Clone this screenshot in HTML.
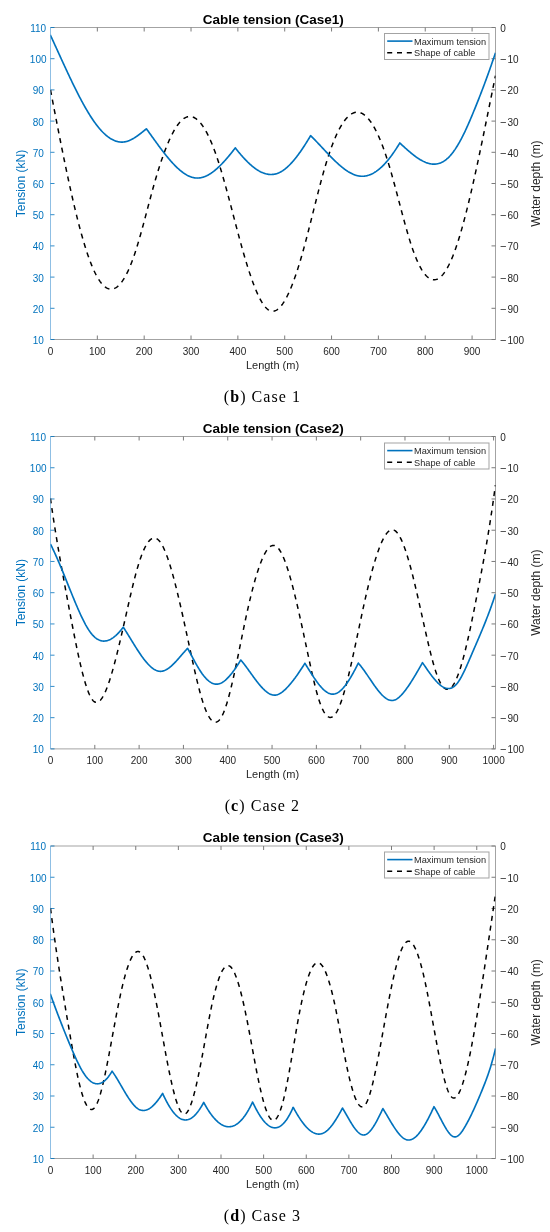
<!DOCTYPE html>
<html><head><meta charset="utf-8"><title>Cable tension</title>
<style>
html,body{margin:0;padding:0;background:#fff;width:550px;height:1232px;overflow:hidden}
svg{display:block}
text{font-family:"Liberation Sans",Arial,Helvetica,sans-serif}
text.cap{font-family:"Liberation Serif","Times New Roman",serif}
</style></head><body>
<svg width="550" height="1232" viewBox="0 0 550 1232">
<rect width="550" height="1232" fill="#fff"/>
<clipPath id="c0"><rect x="50.5" y="26.5" width="445.0" height="314.0"/></clipPath>
<text x="273.3" y="23.9" text-anchor="middle" font-size="13.5" font-weight="bold" fill="#000">Cable tension (Case1)</text>
<path d="M50.5,27.5H495.5M50.5,339.5H495.5M495.5,27.5V339.5" stroke="#a3a3a3" stroke-width="1" fill="none"/>
<path d="M50.5,27.5V339.5" stroke="#8fbfe4" stroke-width="1" fill="none"/>
<path d="M97.34,27.5v4M97.34,339.5v-4M144.18,27.5v4M144.18,339.5v-4M191.03,27.5v4M191.03,339.5v-4M237.87,27.5v4M237.87,339.5v-4M284.71,27.5v4M284.71,339.5v-4M331.55,27.5v4M331.55,339.5v-4M378.39,27.5v4M378.39,339.5v-4M425.24,27.5v4M425.24,339.5v-4M472.08,27.5v4M472.08,339.5v-4" stroke="#7a7a7a" stroke-width="1" fill="none"/>
<path d="M50.5,339.5h4M50.5,308.3h4M50.5,277.1h4M50.5,245.9h4M50.5,214.7h4M50.5,183.5h4M50.5,152.3h4M50.5,121.1h4M50.5,89.9h4M50.5,58.7h4M50.5,27.5h4" stroke="#0072bd" stroke-width="1" fill="none" opacity="0.8"/>
<path d="M495.5,27.5h-4M495.5,58.7h-4M495.5,89.9h-4M495.5,121.1h-4M495.5,152.3h-4M495.5,183.5h-4M495.5,214.7h-4M495.5,245.9h-4M495.5,277.1h-4M495.5,308.3h-4M495.5,339.5h-4" stroke="#7a7a7a" stroke-width="1" fill="none"/>
<text x="50.5" y="354.8" text-anchor="middle" font-size="10" fill="#262626">0</text>
<text x="97.34" y="354.8" text-anchor="middle" font-size="10" fill="#262626">100</text>
<text x="144.18" y="354.8" text-anchor="middle" font-size="10" fill="#262626">200</text>
<text x="191.03" y="354.8" text-anchor="middle" font-size="10" fill="#262626">300</text>
<text x="237.87" y="354.8" text-anchor="middle" font-size="10" fill="#262626">400</text>
<text x="284.71" y="354.8" text-anchor="middle" font-size="10" fill="#262626">500</text>
<text x="331.55" y="354.8" text-anchor="middle" font-size="10" fill="#262626">600</text>
<text x="378.39" y="354.8" text-anchor="middle" font-size="10" fill="#262626">700</text>
<text x="425.24" y="354.8" text-anchor="middle" font-size="10" fill="#262626">800</text>
<text x="472.08" y="354.8" text-anchor="middle" font-size="10" fill="#262626">900</text>
<text x="38.2" y="343.9" text-anchor="middle" font-size="10" fill="#0072bd">10</text>
<text x="38.2" y="312.7" text-anchor="middle" font-size="10" fill="#0072bd">20</text>
<text x="38.2" y="281.5" text-anchor="middle" font-size="10" fill="#0072bd">30</text>
<text x="38.2" y="250.3" text-anchor="middle" font-size="10" fill="#0072bd">40</text>
<text x="38.2" y="219.1" text-anchor="middle" font-size="10" fill="#0072bd">50</text>
<text x="38.2" y="187.9" text-anchor="middle" font-size="10" fill="#0072bd">60</text>
<text x="38.2" y="156.7" text-anchor="middle" font-size="10" fill="#0072bd">70</text>
<text x="38.2" y="125.5" text-anchor="middle" font-size="10" fill="#0072bd">80</text>
<text x="38.2" y="94.3" text-anchor="middle" font-size="10" fill="#0072bd">90</text>
<text x="38.2" y="63.1" text-anchor="middle" font-size="10" fill="#0072bd">100</text>
<text x="38.2" y="31.9" text-anchor="middle" font-size="10" fill="#0072bd">110</text>
<text x="500.3" y="31.9" font-size="10" fill="#262626">0</text>
<text x="500.1" y="63.1" font-size="10" fill="#262626"><tspan font-size="11">−</tspan><tspan dx="0.9">10</tspan></text>
<text x="500.1" y="94.3" font-size="10" fill="#262626"><tspan font-size="11">−</tspan><tspan dx="0.9">20</tspan></text>
<text x="500.1" y="125.5" font-size="10" fill="#262626"><tspan font-size="11">−</tspan><tspan dx="0.9">30</tspan></text>
<text x="500.1" y="156.7" font-size="10" fill="#262626"><tspan font-size="11">−</tspan><tspan dx="0.9">40</tspan></text>
<text x="500.1" y="187.9" font-size="10" fill="#262626"><tspan font-size="11">−</tspan><tspan dx="0.9">50</tspan></text>
<text x="500.1" y="219.1" font-size="10" fill="#262626"><tspan font-size="11">−</tspan><tspan dx="0.9">60</tspan></text>
<text x="500.1" y="250.3" font-size="10" fill="#262626"><tspan font-size="11">−</tspan><tspan dx="0.9">70</tspan></text>
<text x="500.1" y="281.5" font-size="10" fill="#262626"><tspan font-size="11">−</tspan><tspan dx="0.9">80</tspan></text>
<text x="500.1" y="312.7" font-size="10" fill="#262626"><tspan font-size="11">−</tspan><tspan dx="0.9">90</tspan></text>
<text x="500.1" y="343.9" font-size="10" fill="#262626"><tspan font-size="11">−</tspan><tspan dx="0.9">100</tspan></text>
<text x="272.5" y="368.9" text-anchor="middle" font-size="11" fill="#262626">Length (m)</text>
<text transform="translate(24.6,183.5) rotate(-90)" text-anchor="middle" font-size="12" fill="#0072bd">Tension (kN)</text>
<text transform="translate(540,183.5) rotate(-90)" text-anchor="middle" font-size="12" fill="#262626">Water depth (m)</text>
<g clip-path="url(#c0)" fill="none" stroke-linejoin="miter">
<path d="M50.5,89.98 L51,92.6 L51.5,95.22 L52,97.83 L52.5,100.44 L53,103.05 L53.5,105.66 L54,108.26 L54.5,110.85 L55,113.44 L55.5,116.03 L56,118.61 L56.5,121.18 L57,123.75 L57.5,126.31 L58,128.87 L58.5,131.41 L59,133.95 L59.5,136.48 L60,139 L60.5,141.52 L61,144.02 L61.5,146.51 L62,149 L62.5,151.47 L63,153.93 L63.5,156.39 L64,158.83 L64.5,161.26 L65,163.67 L65.5,166.08 L66,168.47 L66.5,170.85 L67,173.21 L67.5,175.56 L68,177.9 L68.5,180.22 L69,182.53 L69.5,184.82 L70,187.09 L70.5,189.35 L71,191.59 L71.5,193.82 L72,196.03 L72.5,198.22 L73,200.39 L73.5,202.55 L74,204.68 L74.5,206.8 L75,208.9 L75.5,210.98 L76,213.03 L76.5,215.07 L77,217.09 L77.5,219.08 L78,221.05 L78.5,223.01 L79,224.94 L79.5,226.84 L80,228.73 L80.5,230.59 L81,232.42 L81.5,234.24 L82,236.02 L82.5,237.79 L83,239.52 L83.5,241.24 L84,242.92 L84.5,244.58 L85,246.22 L85.5,247.82 L86,249.4 L86.5,250.95 L87,252.48 L87.5,253.97 L88,255.44 L88.5,256.87 L89,258.28 L89.5,259.66 L90,261 L90.5,262.32 L91,263.6 L91.5,264.86 L92,266.08 L92.5,267.27 L93,268.43 L93.5,269.56 L94,270.65 L94.5,271.72 L95,272.75 L95.5,273.75 L96,274.72 L96.5,275.66 L97,276.57 L97.5,277.44 L98,278.29 L98.5,279.1 L99,279.88 L99.5,280.63 L100,281.35 L100.5,282.03 L101,282.69 L101.5,283.31 L102,283.9 L102.5,284.46 L103,284.99 L103.5,285.49 L104,285.95 L104.5,286.39 L105,286.79 L105.5,287.16 L106,287.5 L106.5,287.8 L107,288.08 L107.5,288.32 L108,288.54 L108.5,288.72 L109,288.86 L109.5,288.98 L110,289.07 L110.5,289.12 L111,289.14 L111.5,289.14 L112,289.09 L112.5,289.02 L113,288.92 L113.5,288.78 L114,288.62 L114.5,288.42 L115,288.19 L115.5,287.92 L116,287.63 L116.5,287.3 L117,286.95 L117.5,286.56 L118,286.14 L118.5,285.69 L119,285.2 L119.5,284.69 L120,284.14 L120.5,283.56 L121,282.95 L121.5,282.31 L122,281.63 L122.5,280.93 L123,280.19 L123.5,279.42 L124,278.62 L124.5,277.79 L125,276.92 L125.5,276.03 L126,275.1 L126.5,274.14 L127,273.15 L127.5,272.13 L128,271.07 L128.5,269.99 L129,268.87 L129.5,267.72 L130,266.54 L130.5,265.33 L131,264.08 L131.5,262.81 L132,261.5 L132.5,260.16 L133,258.79 L133.5,257.38 L134,255.95 L134.5,254.48 L135,252.98 L135.5,251.45 L136,249.89 L136.5,248.31 L137,246.69 L137.5,245.05 L138,243.39 L138.5,241.7 L139,239.99 L139.5,238.26 L140,236.51 L140.5,234.74 L141,232.96 L141.5,231.16 L142,229.34 L142.5,227.52 L143,225.68 L143.5,223.83 L144,221.97 L144.5,220.1 L145,218.22 L145.5,216.34 L146,214.46 L146.5,212.57 L147,210.68 L147.5,208.79 L148,206.9 L148.5,205.01 L149,203.13 L149.5,201.25 L150,199.38 L150.5,197.51 L151,195.65 L151.5,193.8 L152,191.96 L152.5,190.13 L153,188.32 L153.5,186.52 L154,184.74 L154.5,182.97 L155,181.22 L155.5,179.49 L156,177.79 L156.5,176.1 L157,174.43 L157.5,172.78 L158,171.15 L158.5,169.54 L159,167.95 L159.5,166.39 L160,164.84 L160.5,163.32 L161,161.81 L161.5,160.33 L162,158.87 L162.5,157.43 L163,156.02 L163.5,154.62 L164,153.25 L164.5,151.9 L165,150.57 L165.5,149.27 L166,147.99 L166.5,146.73 L167,145.49 L167.5,144.28 L168,143.09 L168.5,141.93 L169,140.79 L169.5,139.67 L170,138.58 L170.5,137.51 L171,136.47 L171.5,135.45 L172,134.45 L172.5,133.48 L173,132.54 L173.5,131.62 L174,130.73 L174.5,129.86 L175,129.02 L175.5,128.2 L176,127.41 L176.5,126.65 L177,125.91 L177.5,125.2 L178,124.51 L178.5,123.86 L179,123.23 L179.5,122.62 L180,122.05 L180.5,121.5 L181,120.98 L181.5,120.49 L182,120.02 L182.5,119.59 L183,119.18 L183.5,118.8 L184,118.45 L184.5,118.12 L185,117.83 L185.5,117.57 L186,117.33 L186.5,117.13 L187,116.95 L187.5,116.8 L188,116.69 L188.5,116.6 L189,116.54 L189.5,116.51 L190,116.5 L190.5,116.53 L191,116.59 L191.5,116.67 L192,116.78 L192.5,116.92 L193,117.09 L193.5,117.29 L194,117.52 L194.5,117.77 L195,118.06 L195.5,118.37 L196,118.71 L196.5,119.08 L197,119.47 L197.5,119.89 L198,120.35 L198.5,120.82 L199,121.33 L199.5,121.87 L200,122.43 L200.5,123.02 L201,123.64 L201.5,124.28 L202,124.95 L202.5,125.65 L203,126.38 L203.5,127.13 L204,127.91 L204.5,128.72 L205,129.55 L205.5,130.42 L206,131.31 L206.5,132.22 L207,133.16 L207.5,134.13 L208,135.13 L208.5,136.15 L209,137.2 L209.5,138.27 L210,139.37 L210.5,140.5 L211,141.65 L211.5,142.83 L212,144.04 L212.5,145.27 L213,146.53 L213.5,147.81 L214,149.12 L214.5,150.46 L215,151.82 L215.5,153.21 L216,154.62 L216.5,156.06 L217,157.52 L217.5,159.01 L218,160.53 L218.5,162.07 L219,163.63 L219.5,165.22 L220,166.83 L220.5,168.46 L221,170.12 L221.5,171.79 L222,173.49 L222.5,175.2 L223,176.93 L223.5,178.68 L224,180.44 L224.5,182.22 L225,184.02 L225.5,185.82 L226,187.64 L226.5,189.48 L227,191.32 L227.5,193.18 L228,195.04 L228.5,196.91 L229,198.79 L229.5,200.68 L230,202.58 L230.5,204.47 L231,206.38 L231.5,208.29 L232,210.2 L232.5,212.11 L233,214.02 L233.5,215.94 L234,217.85 L234.5,219.76 L235,221.67 L235.5,223.58 L236,225.48 L236.5,227.38 L237,229.27 L237.5,231.16 L238,233.04 L238.5,234.91 L239,236.77 L239.5,238.62 L240,240.46 L240.5,242.29 L241,244.11 L241.5,245.92 L242,247.71 L242.5,249.49 L243,251.25 L243.5,253 L244,254.73 L244.5,256.45 L245,258.15 L245.5,259.83 L246,261.49 L246.5,263.14 L247,264.77 L247.5,266.37 L248,267.96 L248.5,269.53 L249,271.08 L249.5,272.61 L250,274.11 L250.5,275.59 L251,277.05 L251.5,278.49 L252,279.9 L252.5,281.29 L253,282.66 L253.5,283.99 L254,285.31 L254.5,286.59 L255,287.85 L255.5,289.09 L256,290.29 L256.5,291.47 L257,292.62 L257.5,293.73 L258,294.82 L258.5,295.88 L259,296.91 L259.5,297.91 L260,298.87 L260.5,299.8 L261,300.7 L261.5,301.57 L262,302.4 L262.5,303.2 L263,303.96 L263.5,304.69 L264,305.38 L264.5,306.03 L265,306.65 L265.5,307.23 L266,307.78 L266.5,308.28 L267,308.75 L267.5,309.17 L268,309.56 L268.5,309.91 L269,310.21 L269.5,310.48 L270,310.7 L270.5,310.89 L271,311.03 L271.5,311.14 L272,311.2 L272.5,311.23 L273,311.22 L273.5,311.17 L274,311.09 L274.5,310.96 L275,310.8 L275.5,310.6 L276,310.37 L276.5,310.1 L277,309.79 L277.5,309.45 L278,309.07 L278.5,308.65 L279,308.21 L279.5,307.72 L280,307.2 L280.5,306.65 L281,306.07 L281.5,305.45 L282,304.79 L282.5,304.11 L283,303.39 L283.5,302.64 L284,301.86 L284.5,301.04 L285,300.2 L285.5,299.32 L286,298.41 L286.5,297.47 L287,296.5 L287.5,295.51 L288,294.48 L288.5,293.42 L289,292.33 L289.5,291.22 L290,290.07 L290.5,288.9 L291,287.7 L291.5,286.47 L292,285.21 L292.5,283.93 L293,282.62 L293.5,281.28 L294,279.92 L294.5,278.53 L295,277.12 L295.5,275.68 L296,274.21 L296.5,272.72 L297,271.21 L297.5,269.67 L298,268.11 L298.5,266.52 L299,264.91 L299.5,263.28 L300,261.63 L300.5,259.95 L301,258.25 L301.5,256.53 L302,254.78 L302.5,253.02 L303,251.24 L303.5,249.43 L304,247.61 L304.5,245.76 L305,243.9 L305.5,242.03 L306,240.14 L306.5,238.23 L307,236.31 L307.5,234.39 L308,232.44 L308.5,230.49 L309,228.53 L309.5,226.57 L310,224.59 L310.5,222.61 L311,220.63 L311.5,218.64 L312,216.64 L312.5,214.65 L313,212.65 L313.5,210.66 L314,208.66 L314.5,206.67 L315,204.68 L315.5,202.7 L316,200.72 L316.5,198.74 L317,196.77 L317.5,194.81 L318,192.86 L318.5,190.92 L319,188.99 L319.5,187.08 L320,185.17 L320.5,183.28 L321,181.41 L321.5,179.55 L322,177.71 L322.5,175.88 L323,174.08 L323.5,172.29 L324,170.53 L324.5,168.79 L325,167.07 L325.5,165.37 L326,163.7 L326.5,162.06 L327,160.44 L327.5,158.85 L328,157.29 L328.5,155.75 L329,154.24 L329.5,152.76 L330,151.3 L330.5,149.87 L331,148.47 L331.5,147.1 L332,145.75 L332.5,144.42 L333,143.13 L333.5,141.86 L334,140.62 L334.5,139.4 L335,138.21 L335.5,137.05 L336,135.92 L336.5,134.81 L337,133.73 L337.5,132.67 L338,131.64 L338.5,130.64 L339,129.67 L339.5,128.72 L340,127.79 L340.5,126.9 L341,126.03 L341.5,125.19 L342,124.37 L342.5,123.58 L343,122.82 L343.5,122.08 L344,121.38 L344.5,120.69 L345,120.04 L345.5,119.41 L346,118.8 L346.5,118.23 L347,117.68 L347.5,117.15 L348,116.65 L348.5,116.18 L349,115.74 L349.5,115.32 L350,114.93 L350.5,114.56 L351,114.23 L351.5,113.91 L352,113.63 L352.5,113.37 L353,113.14 L353.5,112.93 L354,112.75 L354.5,112.59 L355,112.47 L355.5,112.36 L356,112.29 L356.5,112.24 L357,112.22 L357.5,112.22 L358,112.25 L358.5,112.31 L359,112.39 L359.5,112.5 L360,112.64 L360.5,112.8 L361,112.99 L361.5,113.2 L362,113.44 L362.5,113.71 L363,114 L363.5,114.32 L364,114.66 L364.5,115.03 L365,115.43 L365.5,115.86 L366,116.3 L366.5,116.78 L367,117.28 L367.5,117.81 L368,118.36 L368.5,118.95 L369,119.55 L369.5,120.18 L370,120.84 L370.5,121.53 L371,122.24 L371.5,122.97 L372,123.74 L372.5,124.53 L373,125.34 L373.5,126.18 L374,127.05 L374.5,127.94 L375,128.86 L375.5,129.81 L376,130.78 L376.5,131.77 L377,132.8 L377.5,133.84 L378,134.92 L378.5,136.02 L379,137.15 L379.5,138.3 L380,139.48 L380.5,140.68 L381,141.91 L381.5,143.17 L382,144.45 L382.5,145.76 L383,147.09 L383.5,148.45 L384,149.83 L384.5,151.24 L385,152.68 L385.5,154.14 L386,155.63 L386.5,157.15 L387,158.69 L387.5,160.25 L388,161.84 L388.5,163.46 L389,165.1 L389.5,166.77 L390,168.46 L390.5,170.17 L391,171.91 L391.5,173.66 L392,175.44 L392.5,177.23 L393,179.03 L393.5,180.85 L394,182.69 L394.5,184.53 L395,186.39 L395.5,188.26 L396,190.13 L396.5,192.02 L397,193.91 L397.5,195.8 L398,197.7 L398.5,199.6 L399,201.5 L399.5,203.4 L400,205.3 L400.5,207.2 L401,209.09 L401.5,210.98 L402,212.86 L402.5,214.74 L403,216.6 L403.5,218.46 L404,220.3 L404.5,222.13 L405,223.95 L405.5,225.75 L406,227.54 L406.5,229.31 L407,231.06 L407.5,232.79 L408,234.5 L408.5,236.19 L409,237.85 L409.5,239.49 L410,241.1 L410.5,242.68 L411,244.24 L411.5,245.76 L412,247.26 L412.5,248.72 L413,250.15 L413.5,251.54 L414,252.9 L414.5,254.23 L415,255.52 L415.5,256.78 L416,258.01 L416.5,259.2 L417,260.36 L417.5,261.48 L418,262.58 L418.5,263.63 L419,264.66 L419.5,265.65 L420,266.61 L420.5,267.53 L421,268.42 L421.5,269.27 L422,270.1 L422.5,270.89 L423,271.64 L423.5,272.36 L424,273.05 L424.5,273.71 L425,274.33 L425.5,274.91 L426,275.47 L426.5,275.99 L427,276.48 L427.5,276.93 L428,277.35 L428.5,277.74 L429,278.09 L429.5,278.41 L430,278.69 L430.5,278.95 L431,279.16 L431.5,279.35 L432,279.5 L432.5,279.62 L433,279.7 L433.5,279.75 L434,279.77 L434.5,279.76 L435,279.71 L435.5,279.62 L436,279.51 L436.5,279.36 L437,279.18 L437.5,278.96 L438,278.71 L438.5,278.43 L439,278.11 L439.5,277.76 L440,277.38 L440.5,276.96 L441,276.51 L441.5,276.02 L442,275.51 L442.5,274.96 L443,274.37 L443.5,273.75 L444,273.1 L444.5,272.42 L445,271.7 L445.5,270.95 L446,270.17 L446.5,269.35 L447,268.5 L447.5,267.61 L448,266.7 L448.5,265.75 L449,264.76 L449.5,263.74 L450,262.69 L450.5,261.61 L451,260.49 L451.5,259.34 L452,258.16 L452.5,256.94 L453,255.69 L453.5,254.41 L454,253.09 L454.5,251.75 L455,250.37 L455.5,248.97 L456,247.53 L456.5,246.06 L457,244.57 L457.5,243.04 L458,241.49 L458.5,239.91 L459,238.3 L459.5,236.67 L460,235.01 L460.5,233.32 L461,231.61 L461.5,229.87 L462,228.1 L462.5,226.32 L463,224.5 L463.5,222.67 L464,220.81 L464.5,218.93 L465,217.02 L465.5,215.1 L466,213.15 L466.5,211.18 L467,209.19 L467.5,207.18 L468,205.15 L468.5,203.1 L469,201.04 L469.5,198.95 L470,196.85 L470.5,194.72 L471,192.58 L471.5,190.43 L472,188.26 L472.5,186.07 L473,183.86 L473.5,181.64 L474,179.41 L474.5,177.16 L475,174.9 L475.5,172.63 L476,170.34 L476.5,168.04 L477,165.72 L477.5,163.4 L478,161.06 L478.5,158.72 L479,156.36 L479.5,153.99 L480,151.62 L480.5,149.23 L481,146.84 L481.5,144.44 L482,142.03 L482.5,139.61 L483,137.18 L483.5,134.75 L484,132.31 L484.5,129.87 L485,127.42 L485.5,124.97 L486,122.51 L486.5,120.05 L487,117.58 L487.5,115.12 L488,112.65 L488.5,110.17 L489,107.7 L489.5,105.22 L490,102.74 L490.5,100.26 L491,97.79 L491.5,95.31 L492,92.83 L492.5,90.35 L493,87.88 L493.5,85.41 L494,82.94 L494.5,80.47 L495,78 L495.5,75.54" stroke="#000" stroke-width="1.5" stroke-dasharray="5 4.8"/>
<path d="M50.3,34.92 L50.8,36 L51.3,37.08 L51.8,38.17 L52.3,39.26 L52.8,40.35 L53.3,41.44 L53.8,42.53 L54.3,43.63 L54.8,44.72 L55.31,45.82 L55.81,46.91 L56.31,48.01 L56.81,49.11 L57.31,50.2 L57.81,51.3 L58.31,52.4 L58.81,53.5 L59.31,54.6 L59.81,55.69 L60.31,56.79 L60.81,57.88 L61.31,58.98 L61.81,60.07 L62.31,61.17 L62.81,62.26 L63.31,63.35 L63.81,64.43 L64.31,65.52 L64.82,66.61 L65.32,67.69 L65.82,68.77 L66.32,69.85 L66.82,70.92 L67.32,71.99 L67.82,73.06 L68.32,74.13 L68.82,75.19 L69.32,76.26 L69.82,77.31 L70.32,78.37 L70.82,79.42 L71.32,80.46 L71.82,81.5 L72.32,82.54 L72.82,83.58 L73.32,84.61 L73.82,85.63 L74.33,86.65 L74.83,87.67 L75.33,88.68 L75.83,89.68 L76.33,90.68 L76.83,91.68 L77.33,92.67 L77.83,93.65 L78.33,94.63 L78.83,95.6 L79.33,96.56 L79.83,97.52 L80.33,98.47 L80.83,99.42 L81.33,100.36 L81.83,101.29 L82.33,102.21 L82.83,103.13 L83.33,104.04 L83.83,104.95 L84.34,105.84 L84.84,106.73 L85.34,107.61 L85.84,108.48 L86.34,109.34 L86.84,110.2 L87.34,111.04 L87.84,111.88 L88.34,112.71 L88.84,113.53 L89.34,114.34 L89.84,115.14 L90.34,115.94 L90.84,116.72 L91.34,117.49 L91.84,118.25 L92.34,119.01 L92.84,119.75 L93.34,120.48 L93.85,121.2 L94.35,121.92 L94.85,122.62 L95.35,123.31 L95.85,123.99 L96.35,124.65 L96.85,125.31 L97.35,125.96 L97.85,126.59 L98.35,127.21 L98.85,127.82 L99.35,128.42 L99.85,129.01 L100.35,129.58 L100.85,130.14 L101.35,130.69 L101.85,131.23 L102.35,131.75 L102.85,132.27 L103.36,132.77 L103.86,133.26 L104.36,133.73 L104.86,134.19 L105.36,134.65 L105.86,135.08 L106.36,135.51 L106.86,135.92 L107.36,136.32 L107.86,136.71 L108.36,137.08 L108.86,137.44 L109.36,137.79 L109.86,138.13 L110.36,138.45 L110.86,138.76 L111.36,139.05 L111.86,139.34 L112.36,139.6 L112.87,139.86 L113.37,140.1 L113.87,140.33 L114.37,140.55 L114.87,140.75 L115.37,140.94 L115.87,141.11 L116.37,141.27 L116.87,141.42 L117.37,141.55 L117.87,141.67 L118.37,141.77 L118.87,141.86 L119.37,141.94 L119.87,142 L120.37,142.05 L120.87,142.09 L121.37,142.11 L121.87,142.11 L122.38,142.1 L122.88,142.08 L123.38,142.04 L123.88,141.99 L124.38,141.92 L124.88,141.84 L125.38,141.74 L125.88,141.63 L126.38,141.51 L126.88,141.37 L127.38,141.21 L127.88,141.05 L128.38,140.87 L128.88,140.68 L129.38,140.48 L129.88,140.26 L130.38,140.03 L130.88,139.8 L131.38,139.55 L131.88,139.29 L132.39,139.02 L132.89,138.74 L133.39,138.45 L133.89,138.16 L134.39,137.85 L134.89,137.54 L135.39,137.21 L135.89,136.88 L136.39,136.55 L136.89,136.2 L137.39,135.85 L137.89,135.49 L138.39,135.13 L138.89,134.76 L139.39,134.39 L139.89,134.01 L140.39,133.62 L140.89,133.23 L141.39,132.84 L141.9,132.45 L142.4,132.05 L142.9,131.64 L143.4,131.24 L143.9,130.83 L144.4,130.42 L144.9,130.01 L145.4,129.6 L145.9,129.18 L146.4,128.77L146.4,128.77 L146.9,129.46 L147.4,130.16 L147.91,130.85 L148.41,131.55 L148.91,132.25 L149.41,132.95 L149.92,133.65 L150.42,134.35 L150.92,135.05 L151.42,135.74 L151.92,136.44 L152.43,137.14 L152.93,137.84 L153.43,138.54 L153.93,139.24 L154.44,139.93 L154.94,140.63 L155.44,141.32 L155.94,142.01 L156.45,142.7 L156.95,143.39 L157.45,144.08 L157.95,144.76 L158.45,145.45 L158.96,146.13 L159.46,146.8 L159.96,147.48 L160.46,148.15 L160.97,148.82 L161.47,149.48 L161.97,150.14 L162.47,150.8 L162.97,151.45 L163.48,152.1 L163.98,152.75 L164.48,153.39 L164.98,154.03 L165.49,154.66 L165.99,155.29 L166.49,155.91 L166.99,156.53 L167.49,157.14 L168,157.75 L168.5,158.35 L169,158.95 L169.5,159.54 L170.01,160.12 L170.51,160.7 L171.01,161.27 L171.51,161.83 L172.02,162.39 L172.52,162.94 L173.02,163.48 L173.52,164.02 L174.02,164.55 L174.53,165.07 L175.03,165.58 L175.53,166.09 L176.03,166.59 L176.54,167.08 L177.04,167.56 L177.54,168.03 L178.04,168.5 L178.54,168.95 L179.05,169.4 L179.55,169.83 L180.05,170.26 L180.55,170.68 L181.06,171.09 L181.56,171.48 L182.06,171.87 L182.56,172.25 L183.06,172.62 L183.57,172.98 L184.07,173.32 L184.57,173.66 L185.07,173.98 L185.58,174.3 L186.08,174.6 L186.58,174.89 L187.08,175.17 L187.59,175.44 L188.09,175.69 L188.59,175.93 L189.09,176.17 L189.59,176.38 L190.1,176.59 L190.6,176.78 L191.1,176.96 L191.6,177.13 L192.11,177.28 L192.61,177.42 L193.11,177.55 L193.61,177.66 L194.11,177.76 L194.62,177.85 L195.12,177.92 L195.62,177.97 L196.12,178.01 L196.63,178.04 L197.13,178.05 L197.63,178.05 L198.13,178.03 L198.64,178 L199.14,177.96 L199.64,177.9 L200.14,177.83 L200.64,177.74 L201.15,177.64 L201.65,177.53 L202.15,177.41 L202.65,177.27 L203.16,177.12 L203.66,176.96 L204.16,176.78 L204.66,176.6 L205.16,176.4 L205.67,176.18 L206.17,175.96 L206.67,175.73 L207.17,175.48 L207.68,175.22 L208.18,174.95 L208.68,174.67 L209.18,174.38 L209.68,174.08 L210.19,173.77 L210.69,173.45 L211.19,173.11 L211.69,172.77 L212.2,172.42 L212.7,172.05 L213.2,171.68 L213.7,171.3 L214.21,170.91 L214.71,170.5 L215.21,170.09 L215.71,169.67 L216.21,169.25 L216.72,168.81 L217.22,168.36 L217.72,167.91 L218.22,167.45 L218.73,166.98 L219.23,166.5 L219.73,166.01 L220.23,165.52 L220.73,165.02 L221.24,164.51 L221.74,164 L222.24,163.47 L222.74,162.94 L223.25,162.41 L223.75,161.87 L224.25,161.32 L224.75,160.76 L225.25,160.2 L225.76,159.63 L226.26,159.06 L226.76,158.48 L227.26,157.89 L227.77,157.3 L228.27,156.71 L228.77,156.11 L229.27,155.5 L229.78,154.89 L230.28,154.28 L230.78,153.66 L231.28,153.03 L231.78,152.4 L232.29,151.77 L232.79,151.13 L233.29,150.49 L233.79,149.85 L234.3,149.2 L234.8,148.55 L235.3,147.9L235.3,147.87 L235.8,148.51 L236.3,149.15 L236.81,149.79 L237.31,150.41 L237.81,151.04 L238.31,151.65 L238.81,152.27 L239.32,152.87 L239.82,153.47 L240.32,154.07 L240.82,154.66 L241.32,155.24 L241.83,155.82 L242.33,156.39 L242.83,156.95 L243.33,157.51 L243.83,158.06 L244.34,158.6 L244.84,159.14 L245.34,159.67 L245.84,160.19 L246.34,160.71 L246.85,161.21 L247.35,161.71 L247.85,162.21 L248.35,162.69 L248.85,163.17 L249.36,163.64 L249.86,164.1 L250.36,164.55 L250.86,164.99 L251.36,165.43 L251.87,165.86 L252.37,166.27 L252.87,166.68 L253.37,167.08 L253.87,167.47 L254.38,167.86 L254.88,168.23 L255.38,168.59 L255.88,168.95 L256.38,169.29 L256.89,169.62 L257.39,169.95 L257.89,170.26 L258.39,170.57 L258.89,170.86 L259.4,171.14 L259.9,171.41 L260.4,171.68 L260.9,171.93 L261.4,172.17 L261.91,172.4 L262.41,172.61 L262.91,172.82 L263.41,173.02 L263.91,173.2 L264.42,173.37 L264.92,173.53 L265.42,173.68 L265.92,173.82 L266.42,173.94 L266.93,174.05 L267.43,174.15 L267.93,174.24 L268.43,174.31 L268.93,174.38 L269.44,174.43 L269.94,174.46 L270.44,174.48 L270.94,174.49 L271.44,174.49 L271.95,174.47 L272.45,174.44 L272.95,174.4 L273.45,174.34 L273.95,174.27 L274.46,174.18 L274.96,174.08 L275.46,173.97 L275.96,173.84 L276.46,173.7 L276.97,173.54 L277.47,173.37 L277.97,173.18 L278.47,172.97 L278.97,172.76 L279.48,172.52 L279.98,172.28 L280.48,172.02 L280.98,171.74 L281.48,171.45 L281.99,171.14 L282.49,170.83 L282.99,170.49 L283.49,170.15 L283.99,169.79 L284.5,169.42 L285,169.03 L285.5,168.63 L286,168.22 L286.5,167.8 L287.01,167.36 L287.51,166.92 L288.01,166.45 L288.51,165.98 L289.01,165.5 L289.52,165 L290.02,164.49 L290.52,163.97 L291.02,163.44 L291.52,162.9 L292.03,162.35 L292.53,161.79 L293.03,161.21 L293.53,160.63 L294.03,160.04 L294.54,159.43 L295.04,158.82 L295.54,158.19 L296.04,157.56 L296.54,156.91 L297.05,156.26 L297.55,155.6 L298.05,154.93 L298.55,154.25 L299.05,153.56 L299.56,152.86 L300.06,152.16 L300.56,151.44 L301.06,150.72 L301.56,149.99 L302.07,149.25 L302.57,148.51 L303.07,147.76 L303.57,147 L304.07,146.23 L304.58,145.46 L305.08,144.67 L305.58,143.89 L306.08,143.09 L306.58,142.29 L307.09,141.48 L307.59,140.67 L308.09,139.85 L308.59,139.03 L309.09,138.2 L309.6,137.36 L310.1,136.52 L310.6,135.68L310.6,135.68 L311.1,136.17 L311.6,136.66 L312.1,137.15 L312.6,137.65 L313.11,138.15 L313.61,138.66 L314.11,139.16 L314.61,139.67 L315.11,140.19 L315.61,140.7 L316.11,141.22 L316.61,141.74 L317.11,142.27 L317.62,142.79 L318.12,143.32 L318.62,143.85 L319.12,144.38 L319.62,144.91 L320.12,145.44 L320.62,145.97 L321.12,146.51 L321.62,147.04 L322.13,147.58 L322.63,148.11 L323.13,148.65 L323.63,149.18 L324.13,149.72 L324.63,150.25 L325.13,150.79 L325.63,151.32 L326.13,151.85 L326.64,152.38 L327.14,152.91 L327.64,153.44 L328.14,153.97 L328.64,154.49 L329.14,155.02 L329.64,155.54 L330.14,156.05 L330.64,156.57 L331.15,157.08 L331.65,157.59 L332.15,158.1 L332.65,158.6 L333.15,159.1 L333.65,159.6 L334.15,160.09 L334.65,160.58 L335.16,161.06 L335.66,161.54 L336.16,162.02 L336.66,162.49 L337.16,162.96 L337.66,163.42 L338.16,163.88 L338.66,164.33 L339.16,164.77 L339.67,165.21 L340.17,165.65 L340.67,166.07 L341.17,166.49 L341.67,166.91 L342.17,167.32 L342.67,167.72 L343.17,168.11 L343.67,168.5 L344.18,168.88 L344.68,169.26 L345.18,169.62 L345.68,169.98 L346.18,170.33 L346.68,170.67 L347.18,171 L347.68,171.33 L348.18,171.65 L348.69,171.95 L349.19,172.25 L349.69,172.54 L350.19,172.82 L350.69,173.09 L351.19,173.35 L351.69,173.6 L352.19,173.84 L352.69,174.07 L353.2,174.29 L353.7,174.5 L354.2,174.7 L354.7,174.89 L355.2,175.07 L355.7,175.23 L356.2,175.39 L356.7,175.53 L357.2,175.66 L357.71,175.78 L358.21,175.88 L358.71,175.98 L359.21,176.06 L359.71,176.13 L360.21,176.18 L360.71,176.23 L361.21,176.26 L361.71,176.28 L362.22,176.28 L362.72,176.27 L363.22,176.25 L363.72,176.21 L364.22,176.17 L364.72,176.11 L365.22,176.03 L365.72,175.95 L366.22,175.85 L366.73,175.74 L367.23,175.62 L367.73,175.48 L368.23,175.33 L368.73,175.17 L369.23,175 L369.73,174.81 L370.23,174.62 L370.73,174.41 L371.24,174.18 L371.74,173.95 L372.24,173.7 L372.74,173.45 L373.24,173.18 L373.74,172.89 L374.24,172.6 L374.74,172.29 L375.24,171.98 L375.75,171.65 L376.25,171.31 L376.75,170.95 L377.25,170.59 L377.75,170.22 L378.25,169.83 L378.75,169.43 L379.25,169.02 L379.76,168.6 L380.26,168.17 L380.76,167.72 L381.26,167.27 L381.76,166.8 L382.26,166.32 L382.76,165.83 L383.26,165.33 L383.76,164.82 L384.27,164.3 L384.77,163.77 L385.27,163.23 L385.77,162.67 L386.27,162.11 L386.77,161.53 L387.27,160.95 L387.77,160.35 L388.27,159.74 L388.78,159.13 L389.28,158.5 L389.78,157.86 L390.28,157.21 L390.78,156.55 L391.28,155.88 L391.78,155.2 L392.28,154.51 L392.78,153.81 L393.29,153.1 L393.79,152.38 L394.29,151.65 L394.79,150.91 L395.29,150.16 L395.79,149.4 L396.29,148.63 L396.79,147.85 L397.29,147.06 L397.8,146.26 L398.3,145.45 L398.8,144.63 L399.3,143.81 L399.8,142.97L399.8,143.01 L400.3,143.47 L400.8,143.93 L401.3,144.39 L401.8,144.85 L402.31,145.31 L402.81,145.77 L403.31,146.22 L403.81,146.68 L404.31,147.14 L404.81,147.59 L405.31,148.04 L405.81,148.49 L406.31,148.94 L406.81,149.38 L407.32,149.83 L407.82,150.27 L408.32,150.7 L408.82,151.14 L409.32,151.57 L409.82,151.99 L410.32,152.42 L410.82,152.84 L411.32,153.25 L411.83,153.66 L412.33,154.07 L412.83,154.47 L413.33,154.86 L413.83,155.25 L414.33,155.64 L414.83,156.02 L415.33,156.39 L415.83,156.75 L416.33,157.12 L416.84,157.47 L417.34,157.82 L417.84,158.16 L418.34,158.49 L418.84,158.82 L419.34,159.13 L419.84,159.44 L420.34,159.75 L420.84,160.04 L421.35,160.33 L421.85,160.6 L422.35,160.87 L422.85,161.13 L423.35,161.38 L423.85,161.62 L424.35,161.85 L424.85,162.08 L425.35,162.29 L425.85,162.49 L426.36,162.68 L426.86,162.86 L427.36,163.03 L427.86,163.19 L428.36,163.33 L428.86,163.47 L429.36,163.59 L429.86,163.7 L430.36,163.8 L430.86,163.89 L431.37,163.96 L431.87,164.02 L432.37,164.07 L432.87,164.11 L433.37,164.13 L433.87,164.14 L434.37,164.13 L434.87,164.12 L435.37,164.08 L435.88,164.03 L436.38,163.97 L436.88,163.9 L437.38,163.8 L437.88,163.7 L438.38,163.57 L438.88,163.43 L439.38,163.28 L439.88,163.11 L440.38,162.92 L440.89,162.72 L441.39,162.5 L441.89,162.26 L442.39,162.01 L442.89,161.74 L443.39,161.45 L443.89,161.14 L444.39,160.82 L444.89,160.48 L445.4,160.12 L445.9,159.74 L446.4,159.34 L446.9,158.92 L447.4,158.49 L447.9,158.03 L448.4,157.56 L448.9,157.06 L449.4,156.55 L449.9,156.01 L450.41,155.46 L450.91,154.88 L451.41,154.29 L451.91,153.68 L452.41,153.05 L452.91,152.4 L453.41,151.73 L453.91,151.04 L454.41,150.33 L454.92,149.61 L455.42,148.86 L455.92,148.1 L456.42,147.32 L456.92,146.53 L457.42,145.71 L457.92,144.88 L458.42,144.03 L458.92,143.17 L459.42,142.29 L459.93,141.39 L460.43,140.47 L460.93,139.54 L461.43,138.59 L461.93,137.63 L462.43,136.65 L462.93,135.66 L463.43,134.65 L463.93,133.63 L464.44,132.59 L464.94,131.54 L465.44,130.48 L465.94,129.4 L466.44,128.31 L466.94,127.21 L467.44,126.1 L467.94,124.98 L468.44,123.84 L468.94,122.7 L469.45,121.55 L469.95,120.39 L470.45,119.22 L470.95,118.04 L471.45,116.85 L471.95,115.65 L472.45,114.45 L472.95,113.24 L473.45,112.03 L473.95,110.81 L474.46,109.58 L474.96,108.35 L475.46,107.12 L475.96,105.87 L476.46,104.63 L476.96,103.38 L477.46,102.12 L477.96,100.86 L478.46,99.59 L478.97,98.32 L479.47,97.04 L479.97,95.75 L480.47,94.46 L480.97,93.17 L481.47,91.87 L481.97,90.56 L482.47,89.25 L482.97,87.93 L483.47,86.6 L483.98,85.27 L484.48,83.93 L484.98,82.58 L485.48,81.23 L485.98,79.87 L486.48,78.51 L486.98,77.14 L487.48,75.76 L487.98,74.37 L488.49,72.98 L488.99,71.58 L489.49,70.17 L489.99,68.76 L490.49,67.34 L490.99,65.91 L491.49,64.47 L491.99,63.03 L492.49,61.58 L492.99,60.12 L493.5,58.65 L494,57.18 L494.5,55.7 L495,54.21 L495.5,52.71" stroke="#0072bd" stroke-width="1.65" stroke-linejoin="round"/>
</g>
<rect x="384.5" y="33.5" width="104.5" height="26" fill="#fff" stroke="#a3a3a3" stroke-width="1"/>
<path d="M387.2,41.1H412.5" stroke="#0072bd" stroke-width="1.6"/>
<path d="M387.2,52.7H412.5" stroke="#000" stroke-width="1.6" stroke-dasharray="5 4.8"/>
<text x="414.1" y="44.9" font-size="9.2" fill="#262626">Maximum tension</text>
<text x="414.1" y="56.3" font-size="9.2" fill="#262626">Shape of cable</text>
<text x="262.4" y="401.9" text-anchor="middle" class="cap" font-size="16" letter-spacing="1.05" fill="#000">(<tspan font-weight="bold">b</tspan>) Case 1</text>
<clipPath id="c1"><rect x="50.5" y="435.5" width="445.0" height="314.4"/></clipPath>
<text x="273.3" y="432.9" text-anchor="middle" font-size="13.5" font-weight="bold" fill="#000">Cable tension (Case2)</text>
<path d="M50.5,436.5H495.5M50.5,748.9H495.5M495.5,436.5V748.9" stroke="#a3a3a3" stroke-width="1" fill="none"/>
<path d="M50.5,436.5V748.9" stroke="#8fbfe4" stroke-width="1" fill="none"/>
<path d="M94.81,436.5v4M94.81,748.9v-4M139.12,436.5v4M139.12,748.9v-4M183.43,436.5v4M183.43,748.9v-4M227.74,436.5v4M227.74,748.9v-4M272.05,436.5v4M272.05,748.9v-4M316.36,436.5v4M316.36,748.9v-4M360.67,436.5v4M360.67,748.9v-4M404.98,436.5v4M404.98,748.9v-4M449.29,436.5v4M449.29,748.9v-4M493.59,436.5v4M493.59,748.9v-4" stroke="#7a7a7a" stroke-width="1" fill="none"/>
<path d="M50.5,748.9h4M50.5,717.66h4M50.5,686.42h4M50.5,655.18h4M50.5,623.94h4M50.5,592.7h4M50.5,561.46h4M50.5,530.22h4M50.5,498.98h4M50.5,467.74h4M50.5,436.5h4" stroke="#0072bd" stroke-width="1" fill="none" opacity="0.8"/>
<path d="M495.5,436.5h-4M495.5,467.74h-4M495.5,498.98h-4M495.5,530.22h-4M495.5,561.46h-4M495.5,592.7h-4M495.5,623.94h-4M495.5,655.18h-4M495.5,686.42h-4M495.5,717.66h-4M495.5,748.9h-4" stroke="#7a7a7a" stroke-width="1" fill="none"/>
<text x="50.5" y="764.2" text-anchor="middle" font-size="10" fill="#262626">0</text>
<text x="94.81" y="764.2" text-anchor="middle" font-size="10" fill="#262626">100</text>
<text x="139.12" y="764.2" text-anchor="middle" font-size="10" fill="#262626">200</text>
<text x="183.43" y="764.2" text-anchor="middle" font-size="10" fill="#262626">300</text>
<text x="227.74" y="764.2" text-anchor="middle" font-size="10" fill="#262626">400</text>
<text x="272.05" y="764.2" text-anchor="middle" font-size="10" fill="#262626">500</text>
<text x="316.36" y="764.2" text-anchor="middle" font-size="10" fill="#262626">600</text>
<text x="360.67" y="764.2" text-anchor="middle" font-size="10" fill="#262626">700</text>
<text x="404.98" y="764.2" text-anchor="middle" font-size="10" fill="#262626">800</text>
<text x="449.29" y="764.2" text-anchor="middle" font-size="10" fill="#262626">900</text>
<text x="493.59" y="764.2" text-anchor="middle" font-size="10" fill="#262626">1000</text>
<text x="38.2" y="753.3" text-anchor="middle" font-size="10" fill="#0072bd">10</text>
<text x="38.2" y="722.06" text-anchor="middle" font-size="10" fill="#0072bd">20</text>
<text x="38.2" y="690.82" text-anchor="middle" font-size="10" fill="#0072bd">30</text>
<text x="38.2" y="659.58" text-anchor="middle" font-size="10" fill="#0072bd">40</text>
<text x="38.2" y="628.34" text-anchor="middle" font-size="10" fill="#0072bd">50</text>
<text x="38.2" y="597.1" text-anchor="middle" font-size="10" fill="#0072bd">60</text>
<text x="38.2" y="565.86" text-anchor="middle" font-size="10" fill="#0072bd">70</text>
<text x="38.2" y="534.62" text-anchor="middle" font-size="10" fill="#0072bd">80</text>
<text x="38.2" y="503.38" text-anchor="middle" font-size="10" fill="#0072bd">90</text>
<text x="38.2" y="472.14" text-anchor="middle" font-size="10" fill="#0072bd">100</text>
<text x="38.2" y="440.9" text-anchor="middle" font-size="10" fill="#0072bd">110</text>
<text x="500.3" y="440.9" font-size="10" fill="#262626">0</text>
<text x="500.1" y="472.14" font-size="10" fill="#262626"><tspan font-size="11">−</tspan><tspan dx="0.9">10</tspan></text>
<text x="500.1" y="503.38" font-size="10" fill="#262626"><tspan font-size="11">−</tspan><tspan dx="0.9">20</tspan></text>
<text x="500.1" y="534.62" font-size="10" fill="#262626"><tspan font-size="11">−</tspan><tspan dx="0.9">30</tspan></text>
<text x="500.1" y="565.86" font-size="10" fill="#262626"><tspan font-size="11">−</tspan><tspan dx="0.9">40</tspan></text>
<text x="500.1" y="597.1" font-size="10" fill="#262626"><tspan font-size="11">−</tspan><tspan dx="0.9">50</tspan></text>
<text x="500.1" y="628.34" font-size="10" fill="#262626"><tspan font-size="11">−</tspan><tspan dx="0.9">60</tspan></text>
<text x="500.1" y="659.58" font-size="10" fill="#262626"><tspan font-size="11">−</tspan><tspan dx="0.9">70</tspan></text>
<text x="500.1" y="690.82" font-size="10" fill="#262626"><tspan font-size="11">−</tspan><tspan dx="0.9">80</tspan></text>
<text x="500.1" y="722.06" font-size="10" fill="#262626"><tspan font-size="11">−</tspan><tspan dx="0.9">90</tspan></text>
<text x="500.1" y="753.3" font-size="10" fill="#262626"><tspan font-size="11">−</tspan><tspan dx="0.9">100</tspan></text>
<text x="272.5" y="778.3" text-anchor="middle" font-size="11" fill="#262626">Length (m)</text>
<text transform="translate(24.6,592.7) rotate(-90)" text-anchor="middle" font-size="12" fill="#0072bd">Tension (kN)</text>
<text transform="translate(540,592.7) rotate(-90)" text-anchor="middle" font-size="12" fill="#262626">Water depth (m)</text>
<g clip-path="url(#c1)" fill="none" stroke-linejoin="miter">
<path d="M50.4,498.34 L50.9,501.81 L51.4,505.23 L51.9,508.62 L52.4,511.96 L52.9,515.26 L53.4,518.53 L53.9,521.76 L54.4,524.95 L54.9,528.11 L55.4,531.24 L55.9,534.34 L56.4,537.4 L56.9,540.43 L57.4,543.44 L57.9,546.42 L58.4,549.37 L58.9,552.3 L59.4,555.2 L59.9,558.08 L60.4,560.94 L60.9,563.77 L61.4,566.59 L61.9,569.39 L62.4,572.17 L62.9,574.94 L63.4,577.69 L63.9,580.43 L64.4,583.15 L64.9,585.86 L65.4,588.57 L65.9,591.26 L66.4,593.94 L66.9,596.62 L67.4,599.29 L67.9,601.96 L68.4,604.62 L68.9,607.28 L69.4,609.94 L69.9,612.6 L70.4,615.25 L70.9,617.89 L71.4,620.52 L71.9,623.14 L72.4,625.75 L72.9,628.34 L73.4,630.92 L73.9,633.47 L74.4,636.01 L74.9,638.53 L75.4,641.03 L75.9,643.5 L76.4,645.94 L76.9,648.35 L77.4,650.74 L77.9,653.09 L78.4,655.41 L78.9,657.7 L79.4,659.95 L79.9,662.16 L80.4,664.32 L80.9,666.45 L81.4,668.54 L81.9,670.57 L82.4,672.56 L82.9,674.51 L83.4,676.4 L83.9,678.24 L84.4,680.02 L84.9,681.75 L85.4,683.42 L85.9,685.04 L86.4,686.59 L86.9,688.08 L87.4,689.5 L87.9,690.86 L88.4,692.15 L88.9,693.38 L89.4,694.53 L89.9,695.6 L90.4,696.61 L90.9,697.53 L91.4,698.38 L91.9,699.15 L92.4,699.84 L92.9,700.44 L93.4,700.96 L93.9,701.4 L94.4,701.76 L94.9,702.04 L95.4,702.23 L95.9,702.35 L96.4,702.4 L96.9,702.37 L97.4,702.27 L97.9,702.09 L98.4,701.84 L98.9,701.52 L99.4,701.14 L99.9,700.68 L100.4,700.17 L100.9,699.58 L101.4,698.93 L101.9,698.22 L102.4,697.45 L102.9,696.62 L103.4,695.73 L103.9,694.79 L104.4,693.78 L104.9,692.73 L105.4,691.61 L105.9,690.45 L106.4,689.24 L106.9,687.97 L107.4,686.66 L107.9,685.3 L108.4,683.9 L108.9,682.45 L109.4,680.95 L109.9,679.42 L110.4,677.84 L110.9,676.22 L111.4,674.57 L111.9,672.88 L112.4,671.15 L112.9,669.39 L113.4,667.59 L113.9,665.77 L114.4,663.91 L114.9,662.02 L115.4,660.11 L115.9,658.16 L116.4,656.19 L116.9,654.2 L117.4,652.19 L117.9,650.15 L118.4,648.09 L118.9,646.01 L119.4,643.91 L119.9,641.8 L120.4,639.67 L120.9,637.53 L121.4,635.37 L121.9,633.2 L122.4,631.02 L122.9,628.83 L123.4,626.64 L123.9,624.43 L124.4,622.22 L124.9,620.01 L125.4,617.79 L125.9,615.58 L126.4,613.36 L126.9,611.14 L127.4,608.92 L127.9,606.71 L128.4,604.51 L128.9,602.31 L129.4,600.12 L129.9,597.95 L130.4,595.79 L130.9,593.64 L131.4,591.52 L131.9,589.41 L132.4,587.33 L132.9,585.27 L133.4,583.23 L133.9,581.23 L134.4,579.25 L134.9,577.31 L135.4,575.4 L135.9,573.52 L136.4,571.69 L136.9,569.89 L137.4,568.13 L137.9,566.42 L138.4,564.76 L138.9,563.14 L139.4,561.57 L139.9,560.05 L140.4,558.58 L140.9,557.15 L141.4,555.78 L141.9,554.45 L142.4,553.17 L142.9,551.95 L143.4,550.77 L143.9,549.64 L144.4,548.56 L144.9,547.54 L145.4,546.56 L145.9,545.64 L146.4,544.77 L146.9,543.94 L147.4,543.18 L147.9,542.46 L148.4,541.8 L148.9,541.18 L149.4,540.63 L149.9,540.12 L150.4,539.67 L150.9,539.27 L151.4,538.93 L151.9,538.64 L152.4,538.41 L152.9,538.23 L153.4,538.1 L153.9,538.04 L154.4,538.02 L154.9,538.07 L155.4,538.17 L155.9,538.32 L156.4,538.54 L156.9,538.81 L157.4,539.13 L157.9,539.52 L158.4,539.96 L158.9,540.46 L159.4,541.02 L159.9,541.64 L160.4,542.32 L160.9,543.05 L161.4,543.84 L161.9,544.68 L162.4,545.58 L162.9,546.53 L163.4,547.54 L163.9,548.59 L164.4,549.69 L164.9,550.85 L165.4,552.05 L165.9,553.3 L166.4,554.59 L166.9,555.93 L167.4,557.31 L167.9,558.74 L168.4,560.2 L168.9,561.71 L169.4,563.26 L169.9,564.85 L170.4,566.47 L170.9,568.13 L171.4,569.83 L171.9,571.57 L172.4,573.33 L172.9,575.13 L173.4,576.96 L173.9,578.83 L174.4,580.72 L174.9,582.64 L175.4,584.59 L175.9,586.57 L176.4,588.57 L176.9,590.6 L177.4,592.65 L177.9,594.73 L178.4,596.82 L178.9,598.94 L179.4,601.08 L179.9,603.24 L180.4,605.41 L180.9,607.6 L181.4,609.81 L181.9,612.03 L182.4,614.27 L182.9,616.52 L183.4,618.78 L183.9,621.05 L184.4,623.33 L184.9,625.62 L185.4,627.92 L185.9,630.23 L186.4,632.54 L186.9,634.86 L187.4,637.18 L187.9,639.5 L188.4,641.83 L188.9,644.16 L189.4,646.49 L189.9,648.81 L190.4,651.13 L190.9,653.45 L191.4,655.76 L191.9,658.06 L192.4,660.35 L192.9,662.63 L193.4,664.89 L193.9,667.13 L194.4,669.35 L194.9,671.55 L195.4,673.73 L195.9,675.89 L196.4,678.01 L196.9,680.11 L197.4,682.17 L197.9,684.2 L198.4,686.19 L198.9,688.15 L199.4,690.06 L199.9,691.94 L200.4,693.77 L200.9,695.55 L201.4,697.29 L201.9,698.98 L202.4,700.61 L202.9,702.19 L203.4,703.72 L203.9,705.18 L204.4,706.59 L204.9,707.95 L205.4,709.24 L205.9,710.48 L206.4,711.66 L206.9,712.77 L207.4,713.83 L207.9,714.83 L208.4,715.76 L208.9,716.64 L209.4,717.45 L209.9,718.2 L210.4,718.89 L210.9,719.51 L211.4,720.07 L211.9,720.57 L212.4,721 L212.9,721.36 L213.4,721.66 L213.9,721.9 L214.4,722.06 L214.9,722.16 L215.4,722.19 L215.9,722.15 L216.4,722.05 L216.9,721.87 L217.4,721.63 L217.9,721.31 L218.4,720.92 L218.9,720.47 L219.4,719.94 L219.9,719.34 L220.4,718.66 L220.9,717.91 L221.4,717.09 L221.9,716.2 L222.4,715.23 L222.9,714.18 L223.4,713.06 L223.9,711.86 L224.4,710.59 L224.9,709.25 L225.4,707.84 L225.9,706.36 L226.4,704.82 L226.9,703.21 L227.4,701.54 L227.9,699.82 L228.4,698.03 L228.9,696.2 L229.4,694.31 L229.9,692.38 L230.4,690.39 L230.9,688.36 L231.4,686.29 L231.9,684.18 L232.4,682.03 L232.9,679.85 L233.4,677.63 L233.9,675.37 L234.4,673.09 L234.9,670.79 L235.4,668.45 L235.9,666.1 L236.4,663.72 L236.9,661.33 L237.4,658.92 L237.9,656.5 L238.4,654.06 L238.9,651.62 L239.4,649.17 L239.9,646.71 L240.4,644.25 L240.9,641.79 L241.4,639.34 L241.9,636.88 L242.4,634.44 L242.9,632 L243.4,629.57 L243.9,627.16 L244.4,624.76 L244.9,622.38 L245.4,620.02 L245.9,617.68 L246.4,615.37 L246.9,613.08 L247.4,610.82 L247.9,608.58 L248.4,606.38 L248.9,604.2 L249.4,602.05 L249.9,599.94 L250.4,597.85 L250.9,595.8 L251.4,593.78 L251.9,591.79 L252.4,589.83 L252.9,587.91 L253.4,586.02 L253.9,584.17 L254.4,582.36 L254.9,580.57 L255.4,578.83 L255.9,577.12 L256.4,575.45 L256.9,573.82 L257.4,572.23 L257.9,570.68 L258.4,569.17 L258.9,567.7 L259.4,566.27 L259.9,564.88 L260.4,563.54 L260.9,562.23 L261.4,560.98 L261.9,559.76 L262.4,558.59 L262.9,557.47 L263.4,556.39 L263.9,555.36 L264.4,554.38 L264.9,553.44 L265.4,552.56 L265.9,551.72 L266.4,550.93 L266.9,550.19 L267.4,549.5 L267.9,548.87 L268.4,548.28 L268.9,547.75 L269.4,547.27 L269.9,546.85 L270.4,546.48 L270.9,546.16 L271.4,545.9 L271.9,545.7 L272.4,545.55 L272.9,545.46 L273.4,545.43 L273.9,545.45 L274.4,545.54 L274.9,545.68 L275.4,545.89 L275.9,546.15 L276.4,546.48 L276.9,546.87 L277.4,547.32 L277.9,547.83 L278.4,548.41 L278.9,549.04 L279.4,549.74 L279.9,550.5 L280.4,551.31 L280.9,552.18 L281.4,553.11 L281.9,554.09 L282.4,555.13 L282.9,556.22 L283.4,557.36 L283.9,558.55 L284.4,559.79 L284.9,561.07 L285.4,562.41 L285.9,563.79 L286.4,565.22 L286.9,566.69 L287.4,568.2 L287.9,569.76 L288.4,571.36 L288.9,572.99 L289.4,574.67 L289.9,576.38 L290.4,578.13 L290.9,579.92 L291.4,581.74 L291.9,583.59 L292.4,585.48 L292.9,587.39 L293.4,589.34 L293.9,591.31 L294.4,593.32 L294.9,595.35 L295.4,597.41 L295.9,599.49 L296.4,601.59 L296.9,603.72 L297.4,605.87 L297.9,608.04 L298.4,610.23 L298.9,612.44 L299.4,614.66 L299.9,616.9 L300.4,619.16 L300.9,621.43 L301.4,623.71 L301.9,626.01 L302.4,628.32 L302.9,630.63 L303.4,632.96 L303.9,635.29 L304.4,637.63 L304.9,639.97 L305.4,642.32 L305.9,644.67 L306.4,647.03 L306.9,649.38 L307.4,651.74 L307.9,654.1 L308.4,656.45 L308.9,658.79 L309.4,661.12 L309.9,663.44 L310.4,665.75 L310.9,668.03 L311.4,670.3 L311.9,672.54 L312.4,674.75 L312.9,676.93 L313.4,679.08 L313.9,681.19 L314.4,683.27 L314.9,685.3 L315.4,687.29 L315.9,689.23 L316.4,691.11 L316.9,692.95 L317.4,694.73 L317.9,696.45 L318.4,698.11 L318.9,699.7 L319.4,701.22 L319.9,702.68 L320.4,704.07 L320.9,705.38 L321.4,706.63 L321.9,707.81 L322.4,708.92 L322.9,709.96 L323.4,710.94 L323.9,711.84 L324.4,712.68 L324.9,713.45 L325.4,714.15 L325.9,714.78 L326.4,715.34 L326.9,715.84 L327.4,716.27 L327.9,716.62 L328.4,716.92 L328.9,717.14 L329.4,717.29 L329.9,717.38 L330.4,717.4 L330.9,717.35 L331.4,717.24 L331.9,717.06 L332.4,716.81 L332.9,716.49 L333.4,716.11 L333.9,715.65 L334.4,715.14 L334.9,714.55 L335.4,713.9 L335.9,713.18 L336.4,712.39 L336.9,711.54 L337.4,710.62 L337.9,709.63 L338.4,708.58 L338.9,707.46 L339.4,706.28 L339.9,705.04 L340.4,703.73 L340.9,702.37 L341.4,700.95 L341.9,699.48 L342.4,697.95 L342.9,696.37 L343.4,694.75 L343.9,693.07 L344.4,691.34 L344.9,689.57 L345.4,687.76 L345.9,685.91 L346.4,684.01 L346.9,682.08 L347.4,680.1 L347.9,678.1 L348.4,676.06 L348.9,673.98 L349.4,671.88 L349.9,669.75 L350.4,667.59 L350.9,665.4 L351.4,663.19 L351.9,660.96 L352.4,658.71 L352.9,656.44 L353.4,654.15 L353.9,651.84 L354.4,649.52 L354.9,647.19 L355.4,644.85 L355.9,642.5 L356.4,640.14 L356.9,637.77 L357.4,635.4 L357.9,633.03 L358.4,630.65 L358.9,628.28 L359.4,625.91 L359.9,623.54 L360.4,621.18 L360.9,618.82 L361.4,616.48 L361.9,614.14 L362.4,611.82 L362.9,609.51 L363.4,607.21 L363.9,604.93 L364.4,602.67 L364.9,600.43 L365.4,598.21 L365.9,596.02 L366.4,593.84 L366.9,591.69 L367.4,589.57 L367.9,587.47 L368.4,585.4 L368.9,583.35 L369.4,581.33 L369.9,579.33 L370.4,577.37 L370.9,575.44 L371.4,573.53 L371.9,571.66 L372.4,569.81 L372.9,568 L373.4,566.22 L373.9,564.48 L374.4,562.77 L374.9,561.09 L375.4,559.45 L375.9,557.85 L376.4,556.28 L376.9,554.75 L377.4,553.26 L377.9,551.81 L378.4,550.4 L378.9,549.02 L379.4,547.69 L379.9,546.4 L380.4,545.16 L380.9,543.95 L381.4,542.79 L381.9,541.68 L382.4,540.61 L382.9,539.58 L383.4,538.61 L383.9,537.68 L384.4,536.79 L384.9,535.96 L385.4,535.18 L385.9,534.44 L386.4,533.76 L386.9,533.13 L387.4,532.55 L387.9,532.02 L388.4,531.55 L388.9,531.13 L389.4,530.77 L389.9,530.46 L390.4,530.21 L390.9,530.02 L391.4,529.88 L391.9,529.8 L392.4,529.79 L392.9,529.83 L393.4,529.93 L393.9,530.09 L394.4,530.32 L394.9,530.61 L395.4,530.96 L395.9,531.37 L396.4,531.85 L396.9,532.39 L397.4,532.99 L397.9,533.65 L398.4,534.38 L398.9,535.16 L399.4,535.99 L399.9,536.88 L400.4,537.83 L400.9,538.83 L401.4,539.89 L401.9,540.99 L402.4,542.15 L402.9,543.36 L403.4,544.61 L403.9,545.91 L404.4,547.26 L404.9,548.66 L405.4,550.1 L405.9,551.58 L406.4,553.1 L406.9,554.67 L407.4,556.28 L407.9,557.92 L408.4,559.61 L408.9,561.33 L409.4,563.08 L409.9,564.87 L410.4,566.7 L410.9,568.56 L411.4,570.45 L411.9,572.37 L412.4,574.32 L412.9,576.3 L413.4,578.31 L413.9,580.34 L414.4,582.4 L414.9,584.48 L415.4,586.59 L415.9,588.72 L416.4,590.86 L416.9,593.03 L417.4,595.21 L417.9,597.41 L418.4,599.62 L418.9,601.84 L419.4,604.07 L419.9,606.31 L420.4,608.56 L420.9,610.82 L421.4,613.07 L421.9,615.33 L422.4,617.59 L422.9,619.85 L423.4,622.1 L423.9,624.35 L424.4,626.6 L424.9,628.84 L425.4,631.07 L425.9,633.28 L426.4,635.49 L426.9,637.68 L427.4,639.85 L427.9,642 L428.4,644.13 L428.9,646.23 L429.4,648.31 L429.9,650.36 L430.4,652.38 L430.9,654.36 L431.4,656.31 L431.9,658.22 L432.4,660.1 L432.9,661.93 L433.4,663.71 L433.9,665.45 L434.4,667.14 L434.9,668.78 L435.4,670.37 L435.9,671.9 L436.4,673.37 L436.9,674.78 L437.4,676.13 L437.9,677.42 L438.4,678.64 L438.9,679.8 L439.4,680.88 L439.9,681.9 L440.4,682.86 L440.9,683.74 L441.4,684.56 L441.9,685.32 L442.4,686.01 L442.9,686.63 L443.4,687.19 L443.9,687.68 L444.4,688.11 L444.9,688.47 L445.4,688.76 L445.9,688.99 L446.4,689.16 L446.9,689.26 L447.4,689.29 L447.9,689.26 L448.4,689.17 L448.9,689.01 L449.4,688.79 L449.9,688.5 L450.4,688.15 L450.9,687.74 L451.4,687.26 L451.9,686.72 L452.4,686.11 L452.9,685.44 L453.4,684.71 L453.9,683.91 L454.4,683.05 L454.9,682.13 L455.4,681.15 L455.9,680.1 L456.4,678.99 L456.9,677.82 L457.4,676.59 L457.9,675.3 L458.4,673.96 L458.9,672.56 L459.4,671.1 L459.9,669.59 L460.4,668.03 L460.9,666.42 L461.4,664.76 L461.9,663.05 L462.4,661.29 L462.9,659.49 L463.4,657.64 L463.9,655.75 L464.4,653.82 L464.9,651.85 L465.4,649.83 L465.9,647.78 L466.4,645.69 L466.9,643.57 L467.4,641.41 L467.9,639.22 L468.4,637 L468.9,634.74 L469.4,632.46 L469.9,630.15 L470.4,627.81 L470.9,625.44 L471.4,623.06 L471.9,620.64 L472.4,618.21 L472.9,615.76 L473.4,613.28 L473.9,610.79 L474.4,608.28 L474.9,605.76 L475.4,603.22 L475.9,600.67 L476.4,598.1 L476.9,595.53 L477.4,592.94 L477.9,590.35 L478.4,587.75 L478.9,585.15 L479.4,582.54 L479.9,579.93 L480.4,577.31 L480.9,574.68 L481.4,572.05 L481.9,569.4 L482.4,566.74 L482.9,564.05 L483.4,561.35 L483.9,558.63 L484.4,555.88 L484.9,553.1 L485.4,550.3 L485.9,547.46 L486.4,544.59 L486.9,541.68 L487.4,538.73 L487.9,535.74 L488.4,532.71 L488.9,529.63 L489.4,526.51 L489.9,523.34 L490.4,520.12 L490.9,516.85 L491.4,513.54 L491.9,510.18 L492.4,506.77 L492.9,503.3 L493.4,499.79 L493.9,496.23 L494.4,492.61 L494.9,488.94 L495.4,485.22" stroke="#000" stroke-width="1.5" stroke-dasharray="5 4.8"/>
<path d="M50.5,544.21 L51,545.19 L51.5,546.2 L52.01,547.21 L52.51,548.24 L53.01,549.29 L53.51,550.35 L54.01,551.42 L54.52,552.5 L55.02,553.6 L55.52,554.7 L56.02,555.82 L56.52,556.95 L57.03,558.09 L57.53,559.24 L58.03,560.4 L58.53,561.57 L59.04,562.75 L59.54,563.93 L60.04,565.12 L60.54,566.32 L61.04,567.53 L61.55,568.74 L62.05,569.95 L62.55,571.18 L63.05,572.4 L63.55,573.63 L64.06,574.87 L64.56,576.11 L65.06,577.35 L65.56,578.59 L66.06,579.84 L66.57,581.09 L67.07,582.33 L67.57,583.58 L68.07,584.83 L68.57,586.08 L69.08,587.33 L69.58,588.57 L70.08,589.82 L70.58,591.06 L71.08,592.3 L71.59,593.54 L72.09,594.77 L72.59,596 L73.09,597.22 L73.6,598.44 L74.1,599.66 L74.6,600.87 L75.1,602.07 L75.6,603.26 L76.11,604.45 L76.61,605.63 L77.11,606.8 L77.61,607.96 L78.11,609.12 L78.62,610.26 L79.12,611.39 L79.62,612.52 L80.12,613.62 L80.62,614.72 L81.13,615.8 L81.63,616.87 L82.13,617.92 L82.63,618.95 L83.13,619.97 L83.64,620.97 L84.14,621.96 L84.64,622.92 L85.14,623.86 L85.64,624.79 L86.15,625.69 L86.65,626.57 L87.15,627.43 L87.65,628.26 L88.16,629.07 L88.66,629.85 L89.16,630.61 L89.66,631.34 L90.16,632.05 L90.67,632.73 L91.17,633.37 L91.67,633.99 L92.17,634.59 L92.67,635.15 L93.18,635.69 L93.68,636.2 L94.18,636.68 L94.68,637.14 L95.18,637.57 L95.69,637.97 L96.19,638.35 L96.69,638.7 L97.19,639.03 L97.69,639.33 L98.2,639.61 L98.7,639.86 L99.2,640.09 L99.7,640.29 L100.2,640.47 L100.71,640.62 L101.21,640.76 L101.71,640.87 L102.21,640.95 L102.72,641.02 L103.22,641.06 L103.72,641.08 L104.22,641.07 L104.72,641.05 L105.23,641 L105.73,640.93 L106.23,640.85 L106.73,640.74 L107.23,640.61 L107.74,640.46 L108.24,640.29 L108.74,640.1 L109.24,639.89 L109.74,639.66 L110.25,639.42 L110.75,639.15 L111.25,638.87 L111.75,638.57 L112.25,638.25 L112.76,637.91 L113.26,637.56 L113.76,637.18 L114.26,636.79 L114.76,636.39 L115.27,635.97 L115.77,635.53 L116.27,635.07 L116.77,634.6 L117.28,634.12 L117.78,633.62 L118.28,633.1 L118.78,632.57 L119.28,632.03 L119.79,631.47 L120.29,630.9 L120.79,630.31 L121.29,629.71 L121.79,629.1 L122.3,628.47 L122.8,627.83 L123.3,627.18L123.3,627.18 L123.8,627.96 L124.3,628.74 L124.81,629.53 L125.31,630.32 L125.81,631.12 L126.31,631.92 L126.82,632.73 L127.32,633.54 L127.82,634.35 L128.32,635.16 L128.83,635.98 L129.33,636.8 L129.83,637.62 L130.33,638.44 L130.84,639.26 L131.34,640.08 L131.84,640.9 L132.34,641.72 L132.84,642.53 L133.35,643.35 L133.85,644.16 L134.35,644.97 L134.85,645.77 L135.36,646.57 L135.86,647.37 L136.36,648.16 L136.86,648.95 L137.37,649.73 L137.87,650.5 L138.37,651.27 L138.87,652.03 L139.38,652.78 L139.88,653.53 L140.38,654.26 L140.88,654.99 L141.38,655.71 L141.89,656.41 L142.39,657.11 L142.89,657.8 L143.39,658.47 L143.9,659.13 L144.4,659.78 L144.9,660.42 L145.4,661.04 L145.91,661.65 L146.41,662.25 L146.91,662.83 L147.41,663.4 L147.91,663.95 L148.42,664.49 L148.92,665 L149.42,665.51 L149.92,665.99 L150.43,666.46 L150.93,666.91 L151.43,667.34 L151.93,667.75 L152.44,668.14 L152.94,668.51 L153.44,668.86 L153.94,669.19 L154.45,669.5 L154.95,669.78 L155.45,670.05 L155.95,670.29 L156.45,670.5 L156.96,670.7 L157.46,670.87 L157.96,671.01 L158.46,671.13 L158.97,671.22 L159.47,671.29 L159.97,671.33 L160.47,671.35 L160.98,671.33 L161.48,671.29 L161.98,671.23 L162.48,671.13 L162.99,671.02 L163.49,670.87 L163.99,670.71 L164.49,670.52 L164.99,670.31 L165.5,670.07 L166,669.82 L166.5,669.54 L167,669.25 L167.51,668.94 L168.01,668.6 L168.51,668.25 L169.01,667.89 L169.52,667.5 L170.02,667.1 L170.52,666.69 L171.02,666.26 L171.52,665.82 L172.03,665.36 L172.53,664.89 L173.03,664.41 L173.53,663.92 L174.04,663.42 L174.54,662.9 L175.04,662.38 L175.54,661.85 L176.05,661.32 L176.55,660.77 L177.05,660.22 L177.55,659.66 L178.06,659.1 L178.56,658.53 L179.06,657.96 L179.56,657.39 L180.06,656.81 L180.57,656.23 L181.07,655.65 L181.57,655.07 L182.07,654.49 L182.58,653.91 L183.08,653.33 L183.58,652.76 L184.08,652.18 L184.59,651.61 L185.09,651.05 L185.59,650.48 L186.09,649.93 L186.6,649.38 L187.1,648.83 L187.6,648.3L187.6,648.27 L188.1,649.19 L188.6,650.12 L189.11,651.05 L189.61,651.99 L190.11,652.93 L190.61,653.87 L191.11,654.81 L191.62,655.75 L192.12,656.7 L192.62,657.64 L193.12,658.57 L193.62,659.5 L194.12,660.43 L194.63,661.35 L195.13,662.27 L195.63,663.17 L196.13,664.07 L196.63,664.95 L197.14,665.82 L197.64,666.69 L198.14,667.53 L198.64,668.37 L199.14,669.18 L199.65,669.98 L200.15,670.76 L200.65,671.53 L201.15,672.27 L201.65,672.99 L202.15,673.7 L202.66,674.38 L203.16,675.04 L203.66,675.69 L204.16,676.31 L204.66,676.91 L205.17,677.49 L205.67,678.04 L206.17,678.58 L206.67,679.09 L207.17,679.58 L207.68,680.04 L208.18,680.49 L208.68,680.91 L209.18,681.3 L209.68,681.67 L210.18,682.02 L210.69,682.34 L211.19,682.64 L211.69,682.91 L212.19,683.15 L212.69,683.37 L213.2,683.57 L213.7,683.73 L214.2,683.87 L214.7,683.99 L215.2,684.07 L215.71,684.13 L216.21,684.16 L216.71,684.16 L217.21,684.14 L217.71,684.08 L218.22,684 L218.72,683.89 L219.22,683.76 L219.72,683.6 L220.22,683.41 L220.72,683.21 L221.23,682.97 L221.73,682.71 L222.23,682.43 L222.73,682.13 L223.23,681.8 L223.74,681.45 L224.24,681.08 L224.74,680.69 L225.24,680.28 L225.74,679.85 L226.25,679.4 L226.75,678.93 L227.25,678.44 L227.75,677.93 L228.25,677.41 L228.75,676.87 L229.26,676.31 L229.76,675.74 L230.26,675.15 L230.76,674.54 L231.26,673.92 L231.77,673.29 L232.27,672.64 L232.77,671.98 L233.27,671.31 L233.77,670.62 L234.28,669.93 L234.78,669.22 L235.28,668.5 L235.78,667.77 L236.28,667.03 L236.78,666.28 L237.29,665.52 L237.79,664.75 L238.29,663.98 L238.79,663.2 L239.29,662.41 L239.8,661.61 L240.3,660.81 L240.8,660L240.8,659.98 L241.3,660.58 L241.8,661.18 L242.3,661.8 L242.8,662.43 L243.3,663.06 L243.8,663.7 L244.31,664.35 L244.81,665.01 L245.31,665.67 L245.81,666.34 L246.31,667.02 L246.81,667.7 L247.31,668.38 L247.81,669.07 L248.31,669.76 L248.81,670.46 L249.31,671.15 L249.81,671.85 L250.31,672.55 L250.82,673.24 L251.32,673.94 L251.82,674.64 L252.32,675.33 L252.82,676.02 L253.32,676.71 L253.82,677.4 L254.32,678.08 L254.82,678.75 L255.32,679.42 L255.82,680.09 L256.32,680.75 L256.82,681.4 L257.33,682.04 L257.83,682.68 L258.33,683.31 L258.83,683.92 L259.33,684.53 L259.83,685.13 L260.33,685.71 L260.83,686.29 L261.33,686.85 L261.83,687.4 L262.33,687.93 L262.83,688.45 L263.34,688.96 L263.84,689.45 L264.34,689.92 L264.84,690.38 L265.34,690.82 L265.84,691.24 L266.34,691.65 L266.84,692.03 L267.34,692.4 L267.84,692.75 L268.34,693.07 L268.84,693.38 L269.34,693.66 L269.85,693.92 L270.35,694.15 L270.85,694.37 L271.35,694.55 L271.85,694.72 L272.35,694.86 L272.85,694.97 L273.35,695.05 L273.85,695.11 L274.35,695.14 L274.85,695.14 L275.35,695.12 L275.85,695.06 L276.36,694.97 L276.86,694.86 L277.36,694.71 L277.86,694.54 L278.36,694.34 L278.86,694.12 L279.36,693.87 L279.86,693.6 L280.36,693.31 L280.86,692.99 L281.36,692.66 L281.86,692.3 L282.36,691.92 L282.87,691.53 L283.37,691.11 L283.87,690.68 L284.37,690.23 L284.87,689.77 L285.37,689.3 L285.87,688.81 L286.37,688.3 L286.87,687.79 L287.37,687.26 L287.87,686.73 L288.37,686.18 L288.88,685.62 L289.38,685.05 L289.88,684.48 L290.38,683.89 L290.88,683.29 L291.38,682.68 L291.88,682.07 L292.38,681.44 L292.88,680.81 L293.38,680.16 L293.88,679.51 L294.38,678.85 L294.88,678.18 L295.39,677.51 L295.89,676.82 L296.39,676.13 L296.89,675.43 L297.39,674.72 L297.89,674 L298.39,673.28 L298.89,672.55 L299.39,671.81 L299.89,671.07 L300.39,670.32 L300.89,669.56 L301.39,668.8 L301.9,668.03 L302.4,667.26 L302.9,666.48 L303.4,665.69 L303.9,664.9 L304.4,664.1 L304.9,663.3L304.9,663.27 L305.4,664.08 L305.91,664.9 L306.41,665.71 L306.92,666.52 L307.42,667.34 L307.92,668.15 L308.43,668.96 L308.93,669.77 L309.43,670.58 L309.94,671.38 L310.44,672.18 L310.95,672.97 L311.45,673.76 L311.95,674.54 L312.46,675.32 L312.96,676.09 L313.46,676.85 L313.97,677.61 L314.47,678.35 L314.98,679.09 L315.48,679.81 L315.98,680.52 L316.49,681.23 L316.99,681.92 L317.49,682.6 L318,683.26 L318.5,683.92 L319.01,684.55 L319.51,685.18 L320.01,685.78 L320.52,686.37 L321.02,686.95 L321.52,687.51 L322.03,688.05 L322.53,688.57 L323.04,689.07 L323.54,689.55 L324.04,690.01 L324.55,690.45 L325.05,690.87 L325.55,691.27 L326.06,691.64 L326.56,691.99 L327.07,692.32 L327.57,692.62 L328.07,692.9 L328.58,693.15 L329.08,693.37 L329.58,693.57 L330.09,693.74 L330.59,693.88 L331.1,694 L331.6,694.08 L332.1,694.13 L332.61,694.16 L333.11,694.15 L333.62,694.11 L334.12,694.04 L334.62,693.94 L335.13,693.81 L335.63,693.64 L336.13,693.45 L336.64,693.23 L337.14,692.99 L337.65,692.71 L338.15,692.41 L338.65,692.08 L339.16,691.72 L339.66,691.34 L340.16,690.93 L340.67,690.5 L341.17,690.04 L341.68,689.55 L342.18,689.05 L342.68,688.52 L343.19,687.97 L343.69,687.39 L344.19,686.8 L344.7,686.18 L345.2,685.54 L345.71,684.88 L346.21,684.2 L346.71,683.5 L347.22,682.78 L347.72,682.05 L348.22,681.29 L348.73,680.52 L349.23,679.73 L349.74,678.92 L350.24,678.1 L350.74,677.26 L351.25,676.4 L351.75,675.53 L352.25,674.65 L352.76,673.75 L353.26,672.84 L353.77,671.91 L354.27,670.97 L354.77,670.02 L355.28,669.06 L355.78,668.09 L356.28,667.11 L356.79,666.11 L357.29,665.11 L357.8,664.09 L358.3,663.07L358.3,663.1 L358.8,663.67 L359.3,664.25 L359.8,664.85 L360.31,665.47 L360.81,666.1 L361.31,666.74 L361.81,667.39 L362.31,668.05 L362.81,668.73 L363.32,669.41 L363.82,670.1 L364.32,670.8 L364.82,671.51 L365.32,672.23 L365.82,672.95 L366.32,673.67 L366.83,674.4 L367.33,675.14 L367.83,675.88 L368.33,676.62 L368.83,677.36 L369.33,678.1 L369.84,678.84 L370.34,679.58 L370.84,680.32 L371.34,681.06 L371.84,681.8 L372.34,682.53 L372.85,683.26 L373.35,683.98 L373.85,684.7 L374.35,685.41 L374.85,686.11 L375.35,686.81 L375.85,687.49 L376.36,688.17 L376.86,688.84 L377.36,689.49 L377.86,690.14 L378.36,690.77 L378.86,691.39 L379.37,691.99 L379.87,692.58 L380.37,693.16 L380.87,693.72 L381.37,694.26 L381.87,694.79 L382.38,695.29 L382.88,695.78 L383.38,696.25 L383.88,696.69 L384.38,697.12 L384.88,697.52 L385.38,697.9 L385.89,698.26 L386.39,698.6 L386.89,698.9 L387.39,699.19 L387.89,699.44 L388.39,699.67 L388.9,699.88 L389.4,700.05 L389.9,700.19 L390.4,700.31 L390.9,700.39 L391.4,700.44 L391.9,700.46 L392.41,700.45 L392.91,700.4 L393.41,700.32 L393.91,700.2 L394.41,700.05 L394.91,699.87 L395.42,699.66 L395.92,699.42 L396.42,699.15 L396.92,698.84 L397.42,698.51 L397.92,698.16 L398.43,697.78 L398.93,697.37 L399.43,696.94 L399.93,696.48 L400.43,696 L400.93,695.5 L401.43,694.98 L401.94,694.44 L402.44,693.88 L402.94,693.3 L403.44,692.7 L403.94,692.09 L404.44,691.46 L404.95,690.81 L405.45,690.15 L405.95,689.48 L406.45,688.8 L406.95,688.1 L407.45,687.39 L407.95,686.67 L408.46,685.94 L408.96,685.2 L409.46,684.45 L409.96,683.69 L410.46,682.93 L410.96,682.15 L411.47,681.36 L411.97,680.57 L412.47,679.77 L412.97,678.96 L413.47,678.15 L413.97,677.32 L414.48,676.5 L414.98,675.66 L415.48,674.82 L415.98,673.98 L416.48,673.13 L416.98,672.28 L417.48,671.42 L417.99,670.56 L418.49,669.69 L418.99,668.83 L419.49,667.96 L419.99,667.08 L420.49,666.21 L421,665.34 L421.5,664.46 L422,663.58 L422.5,662.71L422.5,662.68 L423,663.41 L423.5,664.14 L424,664.87 L424.5,665.6 L425,666.33 L425.5,667.06 L426,667.78 L426.5,668.51 L427,669.23 L427.5,669.94 L428,670.66 L428.5,671.36 L429,672.07 L429.5,672.76 L430,673.45 L430.5,674.13 L431,674.81 L431.5,675.47 L432,676.13 L432.5,676.77 L433,677.41 L433.5,678.03 L434,678.64 L434.5,679.24 L435,679.83 L435.5,680.4 L436,680.96 L436.5,681.51 L437,682.03 L437.5,682.55 L438,683.04 L438.5,683.52 L439,683.98 L439.5,684.43 L440,684.85 L440.5,685.26 L441,685.64 L441.5,686 L442,686.34 L442.5,686.66 L443,686.96 L443.5,687.23 L444,687.48 L444.5,687.71 L445,687.91 L445.5,688.08 L446,688.23 L446.5,688.35 L447,688.44 L447.5,688.51 L448,688.54 L448.5,688.55 L449,688.52 L449.5,688.47 L450,688.38 L450.5,688.27 L451,688.12 L451.5,687.93 L452,687.72 L452.5,687.47 L453,687.18 L453.5,686.86 L454,686.5 L454.5,686.11 L455,685.67 L455.5,685.21 L456,684.7 L456.5,684.15 L457,683.56 L457.5,682.93 L458,682.27 L458.5,681.56 L459,680.82 L459.5,680.04 L460,679.23 L460.5,678.39 L461,677.51 L461.5,676.61 L462,675.68 L462.5,674.72 L463,673.74 L463.5,672.73 L464,671.71 L464.5,670.66 L465,669.6 L465.5,668.51 L466,667.42 L466.5,666.3 L467,665.18 L467.5,664.04 L468,662.9 L468.5,661.75 L469,660.59 L469.5,659.42 L470,658.26 L470.5,657.09 L471,655.92 L471.5,654.75 L472,653.58 L472.5,652.42 L473,651.25 L473.5,650.09 L474,648.94 L474.5,647.78 L475,646.62 L475.5,645.46 L476,644.3 L476.5,643.14 L477,641.98 L477.5,640.82 L478,639.66 L478.5,638.49 L479,637.32 L479.5,636.14 L480,634.97 L480.5,633.78 L481,632.59 L481.5,631.4 L482,630.2 L482.5,629 L483,627.78 L483.5,626.57 L484,625.34 L484.5,624.1 L485,622.86 L485.5,621.61 L486,620.35 L486.5,619.07 L487,617.79 L487.5,616.5 L488,615.2 L488.5,613.88 L489,612.55 L489.5,611.21 L490,609.86 L490.5,608.5 L491,607.12 L491.5,605.72 L492,604.31 L492.5,602.89 L493,601.45 L493.5,599.99 L494,598.52 L494.5,597.03 L495,595.53 L495.5,594" stroke="#0072bd" stroke-width="1.65" stroke-linejoin="round"/>
</g>
<rect x="384.5" y="443.0" width="104.5" height="26" fill="#fff" stroke="#a3a3a3" stroke-width="1"/>
<path d="M387.2,450.6H412.5" stroke="#0072bd" stroke-width="1.6"/>
<path d="M387.2,462.2H412.5" stroke="#000" stroke-width="1.6" stroke-dasharray="5 4.8"/>
<text x="414.1" y="454.4" font-size="9.2" fill="#262626">Maximum tension</text>
<text x="414.1" y="465.8" font-size="9.2" fill="#262626">Shape of cable</text>
<text x="262.4" y="811.3" text-anchor="middle" class="cap" font-size="16" letter-spacing="1.05" fill="#000">(<tspan font-weight="bold">c</tspan>) Case 2</text>
<clipPath id="c2"><rect x="50.5" y="845.0" width="445.0" height="314.5"/></clipPath>
<text x="273.3" y="842.4" text-anchor="middle" font-size="13.5" font-weight="bold" fill="#000">Cable tension (Case3)</text>
<path d="M50.5,846.0H495.5M50.5,1158.5H495.5M495.5,846.0V1158.5" stroke="#a3a3a3" stroke-width="1" fill="none"/>
<path d="M50.5,846.0V1158.5" stroke="#8fbfe4" stroke-width="1" fill="none"/>
<path d="M93.12,846.0v4M93.12,1158.5v-4M135.75,846.0v4M135.75,1158.5v-4M178.37,846.0v4M178.37,1158.5v-4M221,846.0v4M221,1158.5v-4M263.62,846.0v4M263.62,1158.5v-4M306.25,846.0v4M306.25,1158.5v-4M348.87,846.0v4M348.87,1158.5v-4M391.5,846.0v4M391.5,1158.5v-4M434.12,846.0v4M434.12,1158.5v-4M476.75,846.0v4M476.75,1158.5v-4" stroke="#7a7a7a" stroke-width="1" fill="none"/>
<path d="M50.5,1158.5h4M50.5,1127.25h4M50.5,1096h4M50.5,1064.75h4M50.5,1033.5h4M50.5,1002.25h4M50.5,971h4M50.5,939.75h4M50.5,908.5h4M50.5,877.25h4M50.5,846h4" stroke="#0072bd" stroke-width="1" fill="none" opacity="0.8"/>
<path d="M495.5,846h-4M495.5,877.25h-4M495.5,908.5h-4M495.5,939.75h-4M495.5,971h-4M495.5,1002.25h-4M495.5,1033.5h-4M495.5,1064.75h-4M495.5,1096h-4M495.5,1127.25h-4M495.5,1158.5h-4" stroke="#7a7a7a" stroke-width="1" fill="none"/>
<text x="50.5" y="1173.8" text-anchor="middle" font-size="10" fill="#262626">0</text>
<text x="93.12" y="1173.8" text-anchor="middle" font-size="10" fill="#262626">100</text>
<text x="135.75" y="1173.8" text-anchor="middle" font-size="10" fill="#262626">200</text>
<text x="178.37" y="1173.8" text-anchor="middle" font-size="10" fill="#262626">300</text>
<text x="221" y="1173.8" text-anchor="middle" font-size="10" fill="#262626">400</text>
<text x="263.62" y="1173.8" text-anchor="middle" font-size="10" fill="#262626">500</text>
<text x="306.25" y="1173.8" text-anchor="middle" font-size="10" fill="#262626">600</text>
<text x="348.87" y="1173.8" text-anchor="middle" font-size="10" fill="#262626">700</text>
<text x="391.5" y="1173.8" text-anchor="middle" font-size="10" fill="#262626">800</text>
<text x="434.12" y="1173.8" text-anchor="middle" font-size="10" fill="#262626">900</text>
<text x="476.75" y="1173.8" text-anchor="middle" font-size="10" fill="#262626">1000</text>
<text x="38.2" y="1162.9" text-anchor="middle" font-size="10" fill="#0072bd">10</text>
<text x="38.2" y="1131.65" text-anchor="middle" font-size="10" fill="#0072bd">20</text>
<text x="38.2" y="1100.4" text-anchor="middle" font-size="10" fill="#0072bd">30</text>
<text x="38.2" y="1069.15" text-anchor="middle" font-size="10" fill="#0072bd">40</text>
<text x="38.2" y="1037.9" text-anchor="middle" font-size="10" fill="#0072bd">50</text>
<text x="38.2" y="1006.65" text-anchor="middle" font-size="10" fill="#0072bd">60</text>
<text x="38.2" y="975.4" text-anchor="middle" font-size="10" fill="#0072bd">70</text>
<text x="38.2" y="944.15" text-anchor="middle" font-size="10" fill="#0072bd">80</text>
<text x="38.2" y="912.9" text-anchor="middle" font-size="10" fill="#0072bd">90</text>
<text x="38.2" y="881.65" text-anchor="middle" font-size="10" fill="#0072bd">100</text>
<text x="38.2" y="850.4" text-anchor="middle" font-size="10" fill="#0072bd">110</text>
<text x="500.3" y="850.4" font-size="10" fill="#262626">0</text>
<text x="500.1" y="881.65" font-size="10" fill="#262626"><tspan font-size="11">−</tspan><tspan dx="0.9">10</tspan></text>
<text x="500.1" y="912.9" font-size="10" fill="#262626"><tspan font-size="11">−</tspan><tspan dx="0.9">20</tspan></text>
<text x="500.1" y="944.15" font-size="10" fill="#262626"><tspan font-size="11">−</tspan><tspan dx="0.9">30</tspan></text>
<text x="500.1" y="975.4" font-size="10" fill="#262626"><tspan font-size="11">−</tspan><tspan dx="0.9">40</tspan></text>
<text x="500.1" y="1006.65" font-size="10" fill="#262626"><tspan font-size="11">−</tspan><tspan dx="0.9">50</tspan></text>
<text x="500.1" y="1037.9" font-size="10" fill="#262626"><tspan font-size="11">−</tspan><tspan dx="0.9">60</tspan></text>
<text x="500.1" y="1069.15" font-size="10" fill="#262626"><tspan font-size="11">−</tspan><tspan dx="0.9">70</tspan></text>
<text x="500.1" y="1100.4" font-size="10" fill="#262626"><tspan font-size="11">−</tspan><tspan dx="0.9">80</tspan></text>
<text x="500.1" y="1131.65" font-size="10" fill="#262626"><tspan font-size="11">−</tspan><tspan dx="0.9">90</tspan></text>
<text x="500.1" y="1162.9" font-size="10" fill="#262626"><tspan font-size="11">−</tspan><tspan dx="0.9">100</tspan></text>
<text x="272.5" y="1187.9" text-anchor="middle" font-size="11" fill="#262626">Length (m)</text>
<text transform="translate(24.6,1002.25) rotate(-90)" text-anchor="middle" font-size="12" fill="#0072bd">Tension (kN)</text>
<text transform="translate(540,1002.25) rotate(-90)" text-anchor="middle" font-size="12" fill="#262626">Water depth (m)</text>
<g clip-path="url(#c2)" fill="none" stroke-linejoin="miter">
<path d="M50.5,908.43 L51,912.28 L51.5,916.08 L52,919.84 L52.5,923.55 L53,927.22 L53.5,930.85 L54,934.43 L54.5,937.98 L55,941.48 L55.5,944.95 L56,948.38 L56.51,951.78 L57.01,955.14 L57.51,958.47 L58.01,961.77 L58.51,965.04 L59.01,968.28 L59.51,971.5 L60.01,974.69 L60.51,977.85 L61.01,980.99 L61.51,984.11 L62.01,987.21 L62.51,990.29 L63.01,993.35 L63.51,996.39 L64.01,999.42 L64.51,1002.43 L65.01,1005.43 L65.51,1008.42 L66.01,1011.4 L66.51,1014.37 L67.01,1017.33 L67.52,1020.29 L68.02,1023.23 L68.52,1026.18 L69.02,1029.12 L69.52,1032.06 L70.02,1034.99 L70.52,1037.91 L71.02,1040.81 L71.52,1043.7 L72.02,1046.56 L72.52,1049.4 L73.02,1052.21 L73.52,1054.98 L74.02,1057.72 L74.52,1060.42 L75.02,1063.07 L75.52,1065.68 L76.02,1068.23 L76.52,1070.73 L77.02,1073.18 L77.52,1075.56 L78.02,1077.87 L78.53,1080.12 L79.03,1082.3 L79.53,1084.4 L80.03,1086.42 L80.53,1088.36 L81.03,1090.22 L81.53,1091.99 L82.03,1093.69 L82.53,1095.3 L83.03,1096.83 L83.53,1098.27 L84.03,1099.63 L84.53,1100.91 L85.03,1102.1 L85.53,1103.2 L86.03,1104.22 L86.53,1105.15 L87.03,1105.99 L87.53,1106.74 L88.03,1107.41 L88.53,1107.98 L89.03,1108.46 L89.54,1108.85 L90.04,1109.15 L90.54,1109.36 L91.04,1109.48 L91.54,1109.5 L92.04,1109.43 L92.54,1109.26 L93.04,1109 L93.54,1108.65 L94.04,1108.19 L94.54,1107.64 L95.04,1107 L95.54,1106.25 L96.04,1105.41 L96.54,1104.46 L97.04,1103.42 L97.54,1102.28 L98.04,1101.03 L98.54,1099.69 L99.04,1098.24 L99.54,1096.71 L100.04,1095.07 L100.54,1093.36 L101.05,1091.55 L101.55,1089.67 L102.05,1087.71 L102.55,1085.67 L103.05,1083.57 L103.55,1081.4 L104.05,1079.17 L104.55,1076.88 L105.05,1074.54 L105.55,1072.15 L106.05,1069.71 L106.55,1067.22 L107.05,1064.7 L107.55,1062.14 L108.05,1059.55 L108.55,1056.93 L109.05,1054.29 L109.55,1051.62 L110.05,1048.94 L110.55,1046.24 L111.05,1043.54 L111.55,1040.83 L112.06,1038.11 L112.56,1035.4 L113.06,1032.68 L113.56,1029.97 L114.06,1027.27 L114.56,1024.58 L115.06,1021.9 L115.56,1019.24 L116.06,1016.6 L116.56,1013.98 L117.06,1011.39 L117.56,1008.82 L118.06,1006.29 L118.56,1003.79 L119.06,1001.33 L119.56,998.91 L120.06,996.53 L120.56,994.19 L121.06,991.91 L121.56,989.67 L122.06,987.49 L122.56,985.37 L123.07,983.3 L123.57,981.3 L124.07,979.35 L124.57,977.46 L125.07,975.63 L125.57,973.86 L126.07,972.15 L126.57,970.51 L127.07,968.93 L127.57,967.41 L128.07,965.96 L128.57,964.57 L129.07,963.25 L129.57,961.99 L130.07,960.8 L130.57,959.68 L131.07,958.63 L131.57,957.65 L132.07,956.74 L132.57,955.9 L133.07,955.13 L133.57,954.43 L134.08,953.8 L134.58,953.25 L135.08,952.77 L135.58,952.37 L136.08,952.05 L136.58,951.8 L137.08,951.62 L137.58,951.53 L138.08,951.51 L138.58,951.58 L139.08,951.72 L139.58,951.94 L140.08,952.25 L140.58,952.63 L141.08,953.1 L141.58,953.66 L142.08,954.3 L142.58,955.02 L143.08,955.83 L143.58,956.72 L144.08,957.69 L144.58,958.75 L145.09,959.88 L145.59,961.1 L146.09,962.38 L146.59,963.75 L147.09,965.18 L147.59,966.69 L148.09,968.27 L148.59,969.91 L149.09,971.63 L149.59,973.4 L150.09,975.24 L150.59,977.15 L151.09,979.11 L151.59,981.13 L152.09,983.21 L152.59,985.35 L153.09,987.53 L153.59,989.77 L154.09,992.07 L154.59,994.41 L155.09,996.8 L155.59,999.23 L156.09,1001.71 L156.6,1004.23 L157.1,1006.79 L157.6,1009.39 L158.1,1012.02 L158.6,1014.68 L159.1,1017.37 L159.6,1020.08 L160.1,1022.81 L160.6,1025.55 L161.1,1028.31 L161.6,1031.08 L162.1,1033.85 L162.6,1036.62 L163.1,1039.39 L163.6,1042.15 L164.1,1044.91 L164.6,1047.66 L165.1,1050.38 L165.6,1053.09 L166.1,1055.78 L166.6,1058.44 L167.1,1061.07 L167.61,1063.67 L168.11,1066.23 L168.61,1068.75 L169.11,1071.23 L169.61,1073.67 L170.11,1076.06 L170.61,1078.4 L171.11,1080.69 L171.61,1082.92 L172.11,1085.1 L172.61,1087.22 L173.11,1089.28 L173.61,1091.28 L174.11,1093.21 L174.61,1095.07 L175.11,1096.86 L175.61,1098.57 L176.11,1100.21 L176.61,1101.78 L177.11,1103.26 L177.61,1104.66 L178.11,1105.97 L178.62,1107.19 L179.12,1108.32 L179.62,1109.36 L180.12,1110.31 L180.62,1111.15 L181.12,1111.89 L181.62,1112.54 L182.12,1113.07 L182.62,1113.5 L183.12,1113.82 L183.62,1114.02 L184.12,1114.11 L184.62,1114.08 L185.12,1113.93 L185.62,1113.67 L186.12,1113.29 L186.62,1112.8 L187.12,1112.21 L187.62,1111.51 L188.12,1110.7 L188.62,1109.8 L189.12,1108.79 L189.63,1107.69 L190.13,1106.5 L190.63,1105.22 L191.13,1103.85 L191.63,1102.39 L192.13,1100.85 L192.63,1099.23 L193.13,1097.53 L193.63,1095.76 L194.13,1093.91 L194.63,1092 L195.13,1090.01 L195.63,1087.96 L196.13,1085.85 L196.63,1083.67 L197.13,1081.44 L197.63,1079.15 L198.13,1076.81 L198.63,1074.42 L199.13,1071.98 L199.63,1069.5 L200.13,1066.97 L200.63,1064.4 L201.14,1061.8 L201.64,1059.16 L202.14,1056.49 L202.64,1053.79 L203.14,1051.07 L203.64,1048.34 L204.14,1045.59 L204.64,1042.84 L205.14,1040.08 L205.64,1037.32 L206.14,1034.57 L206.64,1031.83 L207.14,1029.1 L207.64,1026.39 L208.14,1023.71 L208.64,1021.05 L209.14,1018.43 L209.64,1015.84 L210.14,1013.3 L210.64,1010.8 L211.14,1008.35 L211.64,1005.95 L212.15,1003.62 L212.65,1001.35 L213.15,999.14 L213.65,996.99 L214.15,994.91 L214.65,992.9 L215.15,990.95 L215.65,989.07 L216.15,987.26 L216.65,985.51 L217.15,983.83 L217.65,982.23 L218.15,980.69 L218.65,979.22 L219.15,977.82 L219.65,976.5 L220.15,975.25 L220.65,974.07 L221.15,972.96 L221.65,971.93 L222.15,970.98 L222.65,970.1 L223.16,969.3 L223.66,968.57 L224.16,967.92 L224.66,967.35 L225.16,966.86 L225.66,966.45 L226.16,966.12 L226.66,965.87 L227.16,965.7 L227.66,965.62 L228.16,965.61 L228.66,965.69 L229.16,965.86 L229.66,966.11 L230.16,966.44 L230.66,966.87 L231.16,967.37 L231.66,967.97 L232.16,968.65 L232.66,969.41 L233.16,970.26 L233.66,971.19 L234.17,972.19 L234.67,973.27 L235.17,974.43 L235.67,975.67 L236.17,976.97 L236.67,978.35 L237.17,979.8 L237.67,981.31 L238.17,982.89 L238.67,984.54 L239.17,986.25 L239.67,988.02 L240.17,989.85 L240.67,991.74 L241.17,993.69 L241.67,995.69 L242.17,997.75 L242.67,999.86 L243.17,1002.02 L243.67,1004.23 L244.17,1006.49 L244.67,1008.79 L245.18,1011.14 L245.68,1013.53 L246.18,1015.97 L246.68,1018.44 L247.18,1020.95 L247.68,1023.5 L248.18,1026.09 L248.68,1028.7 L249.18,1031.35 L249.68,1034.01 L250.18,1036.7 L250.68,1039.4 L251.18,1042.11 L251.68,1044.83 L252.18,1047.56 L252.68,1050.28 L253.18,1053 L253.68,1055.71 L254.18,1058.41 L254.68,1061.09 L255.18,1063.75 L255.68,1066.38 L256.18,1068.99 L256.69,1071.56 L257.19,1074.09 L257.69,1076.59 L258.19,1079.04 L258.69,1081.44 L259.19,1083.79 L259.69,1086.09 L260.19,1088.33 L260.69,1090.51 L261.19,1092.63 L261.69,1094.69 L262.19,1096.68 L262.69,1098.61 L263.19,1100.47 L263.69,1102.26 L264.19,1103.98 L264.69,1105.63 L265.19,1107.2 L265.69,1108.69 L266.19,1110.1 L266.69,1111.43 L267.19,1112.68 L267.7,1113.84 L268.2,1114.91 L268.7,1115.89 L269.2,1116.78 L269.7,1117.58 L270.2,1118.28 L270.7,1118.88 L271.2,1119.39 L271.7,1119.79 L272.2,1120.09 L272.7,1120.28 L273.2,1120.37 L273.7,1120.35 L274.2,1120.22 L274.7,1119.99 L275.2,1119.66 L275.7,1119.22 L276.2,1118.69 L276.7,1118.05 L277.2,1117.31 L277.7,1116.47 L278.2,1115.53 L278.71,1114.49 L279.21,1113.35 L279.71,1112.12 L280.21,1110.79 L280.71,1109.36 L281.21,1107.84 L281.71,1106.23 L282.21,1104.52 L282.71,1102.72 L283.21,1100.82 L283.71,1098.84 L284.21,1096.76 L284.71,1094.6 L285.21,1092.34 L285.71,1090.01 L286.21,1087.6 L286.71,1085.12 L287.21,1082.58 L287.71,1079.97 L288.21,1077.3 L288.71,1074.58 L289.21,1071.8 L289.72,1068.99 L290.22,1066.13 L290.72,1063.24 L291.22,1060.32 L291.72,1057.38 L292.22,1054.41 L292.72,1051.44 L293.22,1048.45 L293.72,1045.47 L294.22,1042.48 L294.72,1039.51 L295.22,1036.54 L295.72,1033.6 L296.22,1030.68 L296.72,1027.8 L297.22,1024.94 L297.72,1022.13 L298.22,1019.36 L298.72,1016.65 L299.22,1013.99 L299.72,1011.39 L300.22,1008.86 L300.72,1006.38 L301.23,1003.96 L301.73,1001.61 L302.23,999.32 L302.73,997.09 L303.23,994.92 L303.73,992.82 L304.23,990.79 L304.73,988.82 L305.23,986.91 L305.73,985.08 L306.23,983.31 L306.73,981.61 L307.23,979.97 L307.73,978.41 L308.23,976.92 L308.73,975.5 L309.23,974.14 L309.73,972.86 L310.23,971.66 L310.73,970.52 L311.23,969.46 L311.73,968.48 L312.24,967.57 L312.74,966.73 L313.24,965.97 L313.74,965.29 L314.24,964.69 L314.74,964.16 L315.24,963.71 L315.74,963.35 L316.24,963.06 L316.74,962.85 L317.24,962.72 L317.74,962.68 L318.24,962.71 L318.74,962.83 L319.24,963.02 L319.74,963.29 L320.24,963.64 L320.74,964.07 L321.24,964.57 L321.74,965.15 L322.24,965.8 L322.74,966.53 L323.25,967.33 L323.75,968.2 L324.25,969.15 L324.75,970.16 L325.25,971.25 L325.75,972.41 L326.25,973.63 L326.75,974.93 L327.25,976.29 L327.75,977.72 L328.25,979.22 L328.75,980.78 L329.25,982.41 L329.75,984.1 L330.25,985.86 L330.75,987.68 L331.25,989.56 L331.75,991.5 L332.25,993.51 L332.75,995.57 L333.25,997.7 L333.75,999.88 L334.26,1002.13 L334.76,1004.43 L335.26,1006.78 L335.76,1009.19 L336.26,1011.65 L336.76,1014.16 L337.26,1016.7 L337.76,1019.28 L338.26,1021.9 L338.76,1024.53 L339.26,1027.19 L339.76,1029.87 L340.26,1032.55 L340.76,1035.24 L341.26,1037.94 L341.76,1040.63 L342.26,1043.32 L342.76,1045.99 L343.26,1048.65 L343.76,1051.28 L344.26,1053.89 L344.76,1056.47 L345.27,1059.01 L345.77,1061.51 L346.27,1063.97 L346.77,1066.38 L347.27,1068.73 L347.77,1071.03 L348.27,1073.28 L348.77,1075.46 L349.27,1077.59 L349.77,1079.66 L350.27,1081.67 L350.77,1083.61 L351.27,1085.49 L351.77,1087.3 L352.27,1089.04 L352.77,1090.71 L353.27,1092.31 L353.77,1093.83 L354.27,1095.28 L354.77,1096.65 L355.27,1097.94 L355.77,1099.16 L356.27,1100.29 L356.78,1101.33 L357.28,1102.3 L357.78,1103.17 L358.28,1103.96 L358.78,1104.65 L359.28,1105.26 L359.78,1105.77 L360.28,1106.18 L360.78,1106.5 L361.28,1106.72 L361.78,1106.84 L362.28,1106.86 L362.78,1106.77 L363.28,1106.58 L363.78,1106.28 L364.28,1105.88 L364.78,1105.36 L365.28,1104.73 L365.78,1103.99 L366.28,1103.14 L366.78,1102.17 L367.28,1101.1 L367.79,1099.92 L368.29,1098.64 L368.79,1097.27 L369.29,1095.8 L369.79,1094.24 L370.29,1092.59 L370.79,1090.86 L371.29,1089.04 L371.79,1087.15 L372.29,1085.19 L372.79,1083.15 L373.29,1081.05 L373.79,1078.88 L374.29,1076.65 L374.79,1074.37 L375.29,1072.03 L375.79,1069.63 L376.29,1067.2 L376.79,1064.71 L377.29,1062.19 L377.79,1059.63 L378.29,1057.03 L378.8,1054.41 L379.3,1051.76 L379.8,1049.08 L380.3,1046.38 L380.8,1043.66 L381.3,1040.93 L381.8,1038.19 L382.3,1035.44 L382.8,1032.68 L383.3,1029.92 L383.8,1027.16 L384.3,1024.4 L384.8,1021.64 L385.3,1018.9 L385.8,1016.16 L386.3,1013.44 L386.8,1010.74 L387.3,1008.05 L387.8,1005.39 L388.3,1002.75 L388.8,1000.15 L389.3,997.57 L389.81,995.03 L390.31,992.52 L390.81,990.05 L391.31,987.62 L391.81,985.23 L392.31,982.88 L392.81,980.58 L393.31,978.32 L393.81,976.12 L394.31,973.96 L394.81,971.85 L395.31,969.8 L395.81,967.81 L396.31,965.87 L396.81,963.99 L397.31,962.17 L397.81,960.42 L398.31,958.73 L398.81,957.11 L399.31,955.55 L399.81,954.07 L400.31,952.66 L400.81,951.33 L401.32,950.07 L401.82,948.89 L402.32,947.78 L402.82,946.76 L403.32,945.83 L403.82,944.98 L404.32,944.22 L404.82,943.54 L405.32,942.95 L405.82,942.46 L406.32,942.04 L406.82,941.72 L407.32,941.47 L407.82,941.31 L408.32,941.24 L408.82,941.25 L409.32,941.34 L409.82,941.51 L410.32,941.76 L410.82,942.09 L411.32,942.5 L411.82,942.99 L412.33,943.56 L412.83,944.2 L413.33,944.92 L413.83,945.72 L414.33,946.59 L414.83,947.53 L415.33,948.55 L415.83,949.64 L416.33,950.8 L416.83,952.03 L417.33,953.34 L417.83,954.71 L418.33,956.15 L418.83,957.66 L419.33,959.23 L419.83,960.87 L420.33,962.58 L420.83,964.36 L421.33,966.19 L421.83,968.09 L422.33,970.06 L422.83,972.08 L423.34,974.17 L423.84,976.32 L424.34,978.53 L424.84,980.8 L425.34,983.12 L425.84,985.49 L426.34,987.92 L426.84,990.39 L427.34,992.9 L427.84,995.46 L428.34,998.04 L428.84,1000.66 L429.34,1003.31 L429.84,1005.99 L430.34,1008.69 L430.84,1011.4 L431.34,1014.13 L431.84,1016.87 L432.34,1019.63 L432.84,1022.38 L433.34,1025.14 L433.84,1027.9 L434.35,1030.65 L434.85,1033.39 L435.35,1036.12 L435.85,1038.83 L436.35,1041.53 L436.85,1044.2 L437.35,1046.85 L437.85,1049.47 L438.35,1052.06 L438.85,1054.61 L439.35,1057.12 L439.85,1059.59 L440.35,1062.01 L440.85,1064.38 L441.35,1066.7 L441.85,1068.97 L442.35,1071.17 L442.85,1073.31 L443.35,1075.39 L443.85,1077.39 L444.35,1079.32 L444.85,1081.18 L445.36,1082.95 L445.86,1084.64 L446.36,1086.25 L446.86,1087.76 L447.36,1089.18 L447.86,1090.5 L448.36,1091.73 L448.86,1092.84 L449.36,1093.85 L449.86,1094.75 L450.36,1095.54 L450.86,1096.22 L451.36,1096.79 L451.86,1097.25 L452.36,1097.6 L452.86,1097.85 L453.36,1097.99 L453.86,1098.03 L454.36,1097.97 L454.86,1097.82 L455.36,1097.56 L455.86,1097.21 L456.36,1096.77 L456.87,1096.23 L457.37,1095.6 L457.87,1094.89 L458.37,1094.08 L458.87,1093.19 L459.37,1092.21 L459.87,1091.15 L460.37,1090.01 L460.87,1088.78 L461.37,1087.48 L461.87,1086.1 L462.37,1084.65 L462.87,1083.12 L463.37,1081.52 L463.87,1079.84 L464.37,1078.1 L464.87,1076.29 L465.37,1074.41 L465.87,1072.47 L466.37,1070.46 L466.87,1068.39 L467.37,1066.26 L467.88,1064.08 L468.38,1061.83 L468.88,1059.53 L469.38,1057.17 L469.88,1054.76 L470.38,1052.3 L470.88,1049.79 L471.38,1047.24 L471.88,1044.63 L472.38,1041.98 L472.88,1039.29 L473.38,1036.55 L473.88,1033.78 L474.38,1030.96 L474.88,1028.11 L475.38,1025.22 L475.88,1022.3 L476.38,1019.35 L476.88,1016.36 L477.38,1013.34 L477.88,1010.3 L478.38,1007.22 L478.89,1004.13 L479.39,1001.01 L479.89,997.86 L480.39,994.7 L480.89,991.52 L481.39,988.31 L481.89,985.09 L482.39,981.85 L482.89,978.59 L483.39,975.32 L483.89,972.04 L484.39,968.74 L484.89,965.43 L485.39,962.1 L485.89,958.77 L486.39,955.43 L486.89,952.08 L487.39,948.72 L487.89,945.36 L488.39,941.99 L488.89,938.61 L489.39,935.24 L489.9,931.86 L490.4,928.48 L490.9,925.1 L491.4,921.72 L491.9,918.34 L492.4,914.96 L492.9,911.59 L493.4,908.23 L493.9,904.86 L494.4,901.51 L494.9,898.16 L495.4,894.83" stroke="#000" stroke-width="1.5" stroke-dasharray="5 4.8"/>
<path d="M50.2,993.71 L50.7,995.11 L51.21,996.51 L51.71,997.9 L52.21,999.29 L52.72,1000.67 L53.22,1002.05 L53.72,1003.42 L54.23,1004.79 L54.73,1006.15 L55.23,1007.51 L55.74,1008.86 L56.24,1010.2 L56.74,1011.54 L57.25,1012.88 L57.75,1014.21 L58.25,1015.53 L58.76,1016.85 L59.26,1018.16 L59.76,1019.47 L60.27,1020.77 L60.77,1022.07 L61.27,1023.36 L61.77,1024.65 L62.28,1025.93 L62.78,1027.2 L63.28,1028.47 L63.79,1029.74 L64.29,1031 L64.79,1032.25 L65.3,1033.5 L65.8,1034.75 L66.3,1035.99 L66.81,1037.22 L67.31,1038.45 L67.81,1039.67 L68.32,1040.89 L68.82,1042.1 L69.32,1043.31 L69.83,1044.51 L70.33,1045.71 L70.83,1046.9 L71.34,1048.09 L71.84,1049.27 L72.34,1050.45 L72.85,1051.61 L73.35,1052.77 L73.85,1053.92 L74.36,1055.06 L74.86,1056.18 L75.36,1057.3 L75.87,1058.4 L76.37,1059.49 L76.87,1060.56 L77.38,1061.62 L77.88,1062.66 L78.38,1063.69 L78.89,1064.69 L79.39,1065.68 L79.89,1066.65 L80.4,1067.6 L80.9,1068.52 L81.4,1069.42 L81.9,1070.3 L82.41,1071.15 L82.91,1071.98 L83.41,1072.79 L83.92,1073.56 L84.42,1074.31 L84.92,1075.03 L85.43,1075.72 L85.93,1076.39 L86.43,1077.02 L86.94,1077.63 L87.44,1078.21 L87.94,1078.76 L88.45,1079.28 L88.95,1079.78 L89.45,1080.24 L89.96,1080.68 L90.46,1081.09 L90.96,1081.47 L91.47,1081.82 L91.97,1082.14 L92.47,1082.44 L92.98,1082.7 L93.48,1082.94 L93.98,1083.15 L94.49,1083.33 L94.99,1083.48 L95.49,1083.6 L96,1083.7 L96.5,1083.76 L97,1083.8 L97.51,1083.8 L98.01,1083.78 L98.51,1083.73 L99.02,1083.65 L99.52,1083.54 L100.02,1083.4 L100.53,1083.23 L101.03,1083.03 L101.53,1082.8 L102.03,1082.54 L102.54,1082.26 L103.04,1081.94 L103.54,1081.6 L104.05,1081.22 L104.55,1080.82 L105.05,1080.38 L105.56,1079.92 L106.06,1079.43 L106.56,1078.9 L107.07,1078.35 L107.57,1077.77 L108.07,1077.15 L108.58,1076.51 L109.08,1075.84 L109.58,1075.14 L110.09,1074.4 L110.59,1073.64 L111.09,1072.85 L111.6,1072.03 L112.1,1071.17L112.1,1071.18 L112.6,1071.89 L113.1,1072.6 L113.6,1073.34 L114.1,1074.09 L114.6,1074.85 L115.1,1075.63 L115.6,1076.42 L116.1,1077.22 L116.6,1078.04 L117.1,1078.86 L117.6,1079.69 L118.1,1080.53 L118.6,1081.37 L119.1,1082.22 L119.6,1083.07 L120.1,1083.93 L120.6,1084.79 L121.1,1085.65 L121.6,1086.51 L122.1,1087.38 L122.6,1088.24 L123.1,1089.09 L123.6,1089.95 L124.1,1090.8 L124.6,1091.64 L125.1,1092.48 L125.6,1093.31 L126.1,1094.14 L126.6,1094.95 L127.1,1095.75 L127.6,1096.55 L128.1,1097.33 L128.6,1098.09 L129.1,1098.85 L129.6,1099.58 L130.1,1100.3 L130.6,1101.01 L131.1,1101.7 L131.6,1102.36 L132.1,1103.01 L132.6,1103.64 L133.1,1104.24 L133.6,1104.82 L134.1,1105.38 L134.6,1105.91 L135.1,1106.42 L135.6,1106.9 L136.1,1107.35 L136.6,1107.77 L137.1,1108.16 L137.6,1108.53 L138.1,1108.86 L138.6,1109.15 L139.1,1109.42 L139.6,1109.66 L140.1,1109.86 L140.6,1110.04 L141.1,1110.18 L141.6,1110.3 L142.1,1110.38 L142.6,1110.44 L143.1,1110.47 L143.6,1110.47 L144.1,1110.45 L144.6,1110.39 L145.1,1110.31 L145.6,1110.2 L146.1,1110.07 L146.6,1109.91 L147.1,1109.73 L147.6,1109.52 L148.1,1109.28 L148.6,1109.02 L149.1,1108.74 L149.6,1108.43 L150.1,1108.1 L150.6,1107.75 L151.1,1107.38 L151.6,1106.98 L152.1,1106.56 L152.6,1106.12 L153.1,1105.66 L153.6,1105.18 L154.1,1104.67 L154.6,1104.15 L155.1,1103.61 L155.6,1103.05 L156.1,1102.47 L156.6,1101.87 L157.1,1101.25 L157.6,1100.62 L158.1,1099.97 L158.6,1099.3 L159.1,1098.61 L159.6,1097.91 L160.1,1097.19 L160.6,1096.46 L161.1,1095.71 L161.6,1094.95 L162.1,1094.17 L162.6,1093.38L162.6,1093.39 L163.1,1094.48 L163.6,1095.56 L164.1,1096.62 L164.6,1097.65 L165.11,1098.67 L165.61,1099.66 L166.11,1100.63 L166.61,1101.58 L167.11,1102.51 L167.61,1103.42 L168.11,1104.3 L168.61,1105.16 L169.12,1106 L169.62,1106.82 L170.12,1107.61 L170.62,1108.39 L171.12,1109.13 L171.62,1109.86 L172.12,1110.56 L172.62,1111.24 L173.13,1111.89 L173.63,1112.52 L174.13,1113.12 L174.63,1113.7 L175.13,1114.26 L175.63,1114.79 L176.13,1115.3 L176.63,1115.78 L177.14,1116.23 L177.64,1116.67 L178.14,1117.07 L178.64,1117.45 L179.14,1117.8 L179.64,1118.13 L180.14,1118.43 L180.64,1118.71 L181.15,1118.95 L181.65,1119.17 L182.15,1119.37 L182.65,1119.54 L183.15,1119.67 L183.65,1119.79 L184.15,1119.87 L184.65,1119.93 L185.15,1119.96 L185.66,1119.96 L186.16,1119.93 L186.66,1119.88 L187.16,1119.8 L187.66,1119.69 L188.16,1119.56 L188.66,1119.4 L189.16,1119.21 L189.67,1118.99 L190.17,1118.75 L190.67,1118.48 L191.17,1118.19 L191.67,1117.87 L192.17,1117.52 L192.67,1117.14 L193.17,1116.74 L193.68,1116.31 L194.18,1115.86 L194.68,1115.38 L195.18,1114.88 L195.68,1114.34 L196.18,1113.79 L196.68,1113.2 L197.18,1112.59 L197.69,1111.96 L198.19,1111.3 L198.69,1110.62 L199.19,1109.9 L199.69,1109.17 L200.19,1108.41 L200.69,1107.62 L201.19,1106.81 L201.7,1105.97 L202.2,1105.11 L202.7,1104.23 L203.2,1103.32 L203.7,1102.38L203.7,1102.4 L204.2,1103.33 L204.71,1104.25 L205.21,1105.14 L205.72,1106.02 L206.22,1106.89 L206.72,1107.73 L207.23,1108.56 L207.73,1109.38 L208.24,1110.17 L208.74,1110.95 L209.25,1111.71 L209.75,1112.45 L210.25,1113.17 L210.76,1113.88 L211.26,1114.57 L211.77,1115.24 L212.27,1115.89 L212.77,1116.53 L213.28,1117.14 L213.78,1117.74 L214.29,1118.32 L214.79,1118.88 L215.29,1119.42 L215.8,1119.95 L216.3,1120.45 L216.81,1120.94 L217.31,1121.4 L217.82,1121.85 L218.32,1122.28 L218.82,1122.69 L219.33,1123.08 L219.83,1123.45 L220.34,1123.81 L220.84,1124.14 L221.34,1124.45 L221.85,1124.74 L222.35,1125.02 L222.86,1125.27 L223.36,1125.51 L223.86,1125.72 L224.37,1125.91 L224.87,1126.09 L225.38,1126.24 L225.88,1126.37 L226.39,1126.48 L226.89,1126.58 L227.39,1126.65 L227.9,1126.7 L228.4,1126.73 L228.91,1126.73 L229.41,1126.72 L229.91,1126.69 L230.42,1126.63 L230.92,1126.56 L231.43,1126.46 L231.93,1126.34 L232.44,1126.2 L232.94,1126.04 L233.44,1125.86 L233.95,1125.65 L234.45,1125.43 L234.96,1125.18 L235.46,1124.91 L235.96,1124.61 L236.47,1124.3 L236.97,1123.96 L237.48,1123.6 L237.98,1123.22 L238.48,1122.82 L238.99,1122.39 L239.49,1121.94 L240,1121.47 L240.5,1120.97 L241.01,1120.45 L241.51,1119.91 L242.01,1119.35 L242.52,1118.76 L243.02,1118.15 L243.53,1117.51 L244.03,1116.85 L244.53,1116.17 L245.04,1115.47 L245.54,1114.74 L246.05,1113.99 L246.55,1113.21 L247.05,1112.41 L247.56,1111.58 L248.06,1110.73 L248.57,1109.86 L249.07,1108.96 L249.58,1108.04 L250.08,1107.1 L250.58,1106.12 L251.09,1105.13 L251.59,1104.11 L252.1,1103.06 L252.6,1101.99L252.6,1101.98 L253.1,1103.06 L253.6,1104.11 L254.1,1105.14 L254.6,1106.16 L255.11,1107.15 L255.61,1108.12 L256.11,1109.08 L256.61,1110.01 L257.11,1110.92 L257.61,1111.81 L258.11,1112.68 L258.61,1113.53 L259.12,1114.35 L259.62,1115.16 L260.12,1115.94 L260.62,1116.7 L261.12,1117.43 L261.62,1118.14 L262.12,1118.83 L262.62,1119.5 L263.13,1120.14 L263.63,1120.76 L264.13,1121.35 L264.63,1121.92 L265.13,1122.47 L265.63,1122.99 L266.13,1123.48 L266.63,1123.95 L267.14,1124.39 L267.64,1124.81 L268.14,1125.2 L268.64,1125.57 L269.14,1125.91 L269.64,1126.22 L270.14,1126.5 L270.64,1126.76 L271.15,1126.99 L271.65,1127.19 L272.15,1127.37 L272.65,1127.51 L273.15,1127.63 L273.65,1127.72 L274.15,1127.78 L274.65,1127.81 L275.16,1127.81 L275.66,1127.78 L276.16,1127.72 L276.66,1127.63 L277.16,1127.52 L277.66,1127.37 L278.16,1127.19 L278.66,1126.98 L279.17,1126.74 L279.67,1126.47 L280.17,1126.17 L280.67,1125.84 L281.17,1125.48 L281.67,1125.09 L282.17,1124.67 L282.67,1124.22 L283.18,1123.73 L283.68,1123.21 L284.18,1122.67 L284.68,1122.09 L285.18,1121.47 L285.68,1120.83 L286.18,1120.16 L286.68,1119.45 L287.19,1118.71 L287.69,1117.94 L288.19,1117.13 L288.69,1116.3 L289.19,1115.43 L289.69,1114.53 L290.19,1113.59 L290.69,1112.62 L291.2,1111.62 L291.7,1110.59 L292.2,1109.52 L292.7,1108.42 L293.2,1107.29L293.2,1107.28 L293.7,1108.21 L294.21,1109.14 L294.71,1110.05 L295.21,1110.94 L295.72,1111.83 L296.22,1112.7 L296.72,1113.56 L297.22,1114.4 L297.73,1115.23 L298.23,1116.05 L298.73,1116.85 L299.24,1117.64 L299.74,1118.41 L300.24,1119.17 L300.75,1119.91 L301.25,1120.63 L301.75,1121.34 L302.26,1122.03 L302.76,1122.71 L303.26,1123.37 L303.76,1124.01 L304.27,1124.64 L304.77,1125.24 L305.27,1125.83 L305.78,1126.4 L306.28,1126.96 L306.78,1127.49 L307.29,1128.01 L307.79,1128.5 L308.29,1128.98 L308.79,1129.44 L309.3,1129.88 L309.8,1130.29 L310.3,1130.69 L310.81,1131.07 L311.31,1131.42 L311.81,1131.76 L312.32,1132.07 L312.82,1132.36 L313.32,1132.63 L313.83,1132.88 L314.33,1133.11 L314.83,1133.31 L315.33,1133.49 L315.84,1133.65 L316.34,1133.78 L316.84,1133.89 L317.35,1133.98 L317.85,1134.04 L318.35,1134.08 L318.86,1134.09 L319.36,1134.08 L319.86,1134.04 L320.37,1133.98 L320.87,1133.89 L321.37,1133.78 L321.87,1133.64 L322.38,1133.47 L322.88,1133.28 L323.38,1133.06 L323.89,1132.81 L324.39,1132.53 L324.89,1132.23 L325.4,1131.9 L325.9,1131.54 L326.4,1131.16 L326.91,1130.75 L327.41,1130.31 L327.91,1129.85 L328.41,1129.36 L328.92,1128.85 L329.42,1128.31 L329.92,1127.76 L330.43,1127.18 L330.93,1126.57 L331.43,1125.95 L331.94,1125.31 L332.44,1124.64 L332.94,1123.96 L333.44,1123.26 L333.95,1122.54 L334.45,1121.8 L334.95,1121.05 L335.46,1120.27 L335.96,1119.49 L336.46,1118.68 L336.97,1117.87 L337.47,1117.04 L337.97,1116.19 L338.48,1115.33 L338.98,1114.46 L339.48,1113.58 L339.98,1112.69 L340.49,1111.78 L340.99,1110.87 L341.49,1109.95 L342,1109.02 L342.5,1108.08L342.5,1108.09 L343,1108.93 L343.51,1109.78 L344.01,1110.63 L344.52,1111.5 L345.02,1112.37 L345.53,1113.25 L346.04,1114.13 L346.54,1115.01 L347.05,1115.9 L347.55,1116.78 L348.06,1117.66 L348.56,1118.53 L349.06,1119.4 L349.57,1120.26 L350.07,1121.11 L350.58,1121.96 L351.08,1122.79 L351.59,1123.6 L352.09,1124.4 L352.6,1125.19 L353.11,1125.95 L353.61,1126.7 L354.12,1127.42 L354.62,1128.12 L355.12,1128.79 L355.63,1129.44 L356.13,1130.07 L356.64,1130.66 L357.14,1131.22 L357.65,1131.75 L358.15,1132.24 L358.66,1132.7 L359.16,1133.12 L359.67,1133.5 L360.18,1133.85 L360.68,1134.15 L361.19,1134.4 L361.69,1134.61 L362.19,1134.78 L362.7,1134.9 L363.2,1134.96 L363.71,1134.98 L364.21,1134.94 L364.72,1134.86 L365.22,1134.72 L365.73,1134.53 L366.24,1134.3 L366.74,1134.03 L367.25,1133.71 L367.75,1133.34 L368.25,1132.94 L368.76,1132.49 L369.26,1132.01 L369.77,1131.48 L370.27,1130.92 L370.78,1130.33 L371.28,1129.7 L371.79,1129.03 L372.29,1128.34 L372.8,1127.61 L373.3,1126.86 L373.81,1126.07 L374.31,1125.26 L374.82,1124.43 L375.32,1123.57 L375.83,1122.68 L376.33,1121.78 L376.84,1120.85 L377.34,1119.91 L377.85,1118.94 L378.35,1117.96 L378.86,1116.97 L379.36,1115.95 L379.87,1114.93 L380.38,1113.89 L380.88,1112.85 L381.38,1111.79 L381.89,1110.73 L382.39,1109.66 L382.9,1108.58L382.9,1108.58 L383.4,1109.4 L383.9,1110.22 L384.4,1111.06 L384.9,1111.89 L385.4,1112.74 L385.91,1113.58 L386.41,1114.43 L386.91,1115.28 L387.41,1116.14 L387.91,1116.99 L388.41,1117.84 L388.91,1118.69 L389.41,1119.54 L389.91,1120.39 L390.41,1121.22 L390.92,1122.06 L391.42,1122.88 L391.92,1123.7 L392.42,1124.51 L392.92,1125.31 L393.42,1126.1 L393.92,1126.88 L394.42,1127.65 L394.92,1128.4 L395.42,1129.14 L395.93,1129.86 L396.43,1130.57 L396.93,1131.25 L397.43,1131.92 L397.93,1132.57 L398.43,1133.2 L398.93,1133.81 L399.43,1134.4 L399.93,1134.96 L400.43,1135.5 L400.94,1136.01 L401.44,1136.5 L401.94,1136.96 L402.44,1137.39 L402.94,1137.79 L403.44,1138.17 L403.94,1138.51 L404.44,1138.82 L404.94,1139.09 L405.44,1139.33 L405.95,1139.54 L406.45,1139.71 L406.95,1139.85 L407.45,1139.94 L407.95,1140.01 L408.45,1140.03 L408.95,1140.02 L409.45,1139.98 L409.95,1139.91 L410.45,1139.8 L410.95,1139.65 L411.46,1139.48 L411.96,1139.27 L412.46,1139.04 L412.96,1138.77 L413.46,1138.47 L413.96,1138.14 L414.46,1137.79 L414.96,1137.4 L415.46,1136.99 L415.96,1136.55 L416.47,1136.08 L416.97,1135.58 L417.47,1135.06 L417.97,1134.52 L418.47,1133.95 L418.97,1133.35 L419.47,1132.73 L419.97,1132.09 L420.47,1131.42 L420.97,1130.73 L421.48,1130.02 L421.98,1129.29 L422.48,1128.54 L422.98,1127.77 L423.48,1126.98 L423.98,1126.16 L424.48,1125.33 L424.98,1124.49 L425.48,1123.62 L425.98,1122.74 L426.49,1121.83 L426.99,1120.92 L427.49,1119.99 L427.99,1119.04 L428.49,1118.08 L428.99,1117.1 L429.49,1116.11 L429.99,1115.11 L430.49,1114.09 L430.99,1113.06 L431.5,1112.02 L432,1110.97 L432.5,1109.91 L433,1108.84 L433.5,1107.76 L434,1106.67L434,1106.7 L434.5,1107.51 L435,1108.34 L435.5,1109.19 L436,1110.06 L436.5,1110.95 L437,1111.86 L437.5,1112.78 L438,1113.72 L438.5,1114.66 L439,1115.62 L439.5,1116.57 L440,1117.53 L440.5,1118.5 L441,1119.46 L441.5,1120.42 L442,1121.37 L442.5,1122.31 L443,1123.25 L443.5,1124.17 L444,1125.08 L444.5,1125.97 L445,1126.84 L445.5,1127.69 L446,1128.52 L446.5,1129.33 L447,1130.1 L447.5,1130.85 L448,1131.57 L448.5,1132.25 L449,1132.89 L449.5,1133.5 L450,1134.06 L450.5,1134.58 L451,1135.06 L451.5,1135.48 L452,1135.86 L452.5,1136.18 L453,1136.44 L453.5,1136.65 L454,1136.8 L454.5,1136.88 L455,1136.9 L455.5,1136.86 L456,1136.76 L456.5,1136.6 L457,1136.39 L457.5,1136.11 L458,1135.79 L458.5,1135.41 L459,1134.98 L459.5,1134.5 L460,1133.97 L460.5,1133.4 L461,1132.78 L461.5,1132.12 L462,1131.43 L462.5,1130.7 L463,1129.94 L463.5,1129.16 L464,1128.35 L464.5,1127.51 L465,1126.66 L465.5,1125.79 L466,1124.91 L466.5,1124.01 L467,1123.1 L467.5,1122.18 L468,1121.24 L468.5,1120.28 L469,1119.32 L469.5,1118.34 L470,1117.35 L470.5,1116.34 L471,1115.32 L471.5,1114.29 L472,1113.25 L472.5,1112.2 L473,1111.14 L473.5,1110.06 L474,1108.98 L474.5,1107.88 L475,1106.77 L475.5,1105.66 L476,1104.53 L476.5,1103.4 L477,1102.25 L477.5,1101.1 L478,1099.93 L478.5,1098.76 L479,1097.58 L479.5,1096.39 L480,1095.2 L480.5,1094 L481,1092.78 L481.5,1091.57 L482,1090.34 L482.5,1089.11 L483,1087.87 L483.5,1086.63 L484,1085.37 L484.5,1084.11 L485,1082.83 L485.5,1081.53 L486,1080.22 L486.5,1078.88 L487,1077.52 L487.5,1076.13 L488,1074.72 L488.5,1073.27 L489,1071.79 L489.5,1070.28 L490,1068.73 L490.5,1067.14 L491,1065.5 L491.5,1063.83 L492,1062.1 L492.5,1060.32 L493,1058.5 L493.5,1056.62 L494,1054.68 L494.5,1052.68 L495,1050.62 L495.5,1048.5" stroke="#0072bd" stroke-width="1.65" stroke-linejoin="round"/>
</g>
<rect x="384.5" y="852.0" width="104.5" height="26" fill="#fff" stroke="#a3a3a3" stroke-width="1"/>
<path d="M387.2,859.6H412.5" stroke="#0072bd" stroke-width="1.6"/>
<path d="M387.2,871.2H412.5" stroke="#000" stroke-width="1.6" stroke-dasharray="5 4.8"/>
<text x="414.1" y="863.4" font-size="9.2" fill="#262626">Maximum tension</text>
<text x="414.1" y="874.8" font-size="9.2" fill="#262626">Shape of cable</text>
<text x="262.4" y="1220.9" text-anchor="middle" class="cap" font-size="16" letter-spacing="1.05" fill="#000">(<tspan font-weight="bold">d</tspan>) Case 3</text>
</svg>
</body></html>
